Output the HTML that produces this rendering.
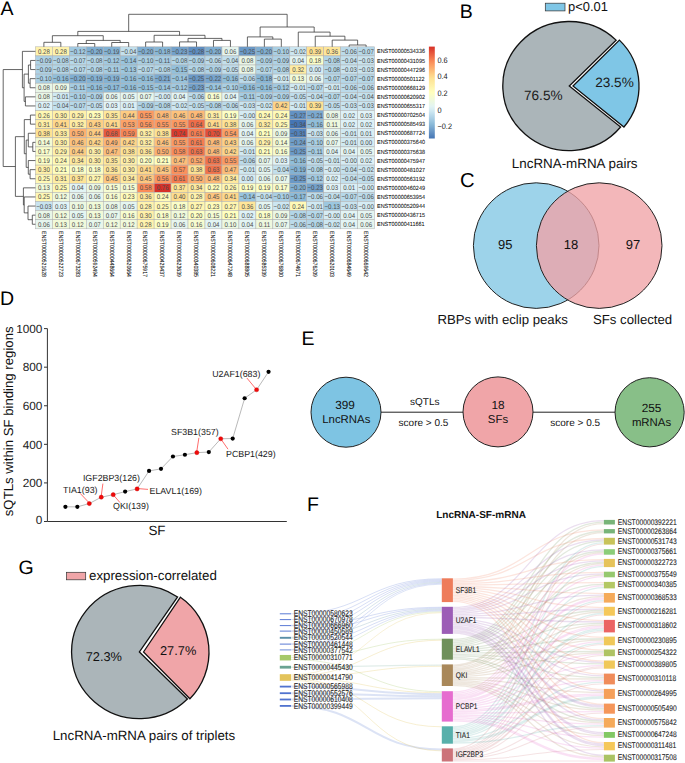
<!DOCTYPE html>
<html><head><meta charset="utf-8"><style>
html,body{margin:0;padding:0;background:#fff;}
svg{display:block;font-family:"Liberation Sans", sans-serif;text-rendering:geometricPrecision;}
</style></head><body>
<svg width="685" height="763" viewBox="0 0 685 763">
<rect width="685" height="763" fill="#fff"/>
<g>
<rect x="35.40" y="46.80" width="16.96" height="9.10" fill="#fff3ad" stroke="#b0b0b0" stroke-width="0.5"/>
<rect x="52.36" y="46.80" width="16.96" height="9.10" fill="#fff3ad" stroke="#b0b0b0" stroke-width="0.5"/>
<rect x="69.32" y="46.80" width="16.96" height="9.10" fill="#a1c9e1" stroke="#b0b0b0" stroke-width="0.5"/>
<rect x="86.28" y="46.80" width="16.96" height="9.10" fill="#7faed2" stroke="#b0b0b0" stroke-width="0.5"/>
<rect x="103.24" y="46.80" width="16.96" height="9.10" fill="#83b2d4" stroke="#b0b0b0" stroke-width="0.5"/>
<rect x="120.20" y="46.80" width="16.96" height="9.10" fill="#c3e0ed" stroke="#b0b0b0" stroke-width="0.5"/>
<rect x="137.16" y="46.80" width="16.96" height="9.10" fill="#7faed2" stroke="#b0b0b0" stroke-width="0.5"/>
<rect x="154.12" y="46.80" width="16.96" height="9.10" fill="#87b6d6" stroke="#b0b0b0" stroke-width="0.5"/>
<rect x="171.08" y="46.80" width="16.96" height="9.10" fill="#73a1cb" stroke="#b0b0b0" stroke-width="0.5"/>
<rect x="188.04" y="46.80" width="16.96" height="9.10" fill="#5e8dc1" stroke="#b0b0b0" stroke-width="0.5"/>
<rect x="205.00" y="46.80" width="16.96" height="9.10" fill="#7faed2" stroke="#b0b0b0" stroke-width="0.5"/>
<rect x="221.96" y="46.80" width="16.96" height="9.10" fill="#e6f5ee" stroke="#b0b0b0" stroke-width="0.5"/>
<rect x="238.92" y="46.80" width="16.96" height="9.10" fill="#6a99c7" stroke="#b0b0b0" stroke-width="0.5"/>
<rect x="255.88" y="46.80" width="16.96" height="9.10" fill="#7faed2" stroke="#b0b0b0" stroke-width="0.5"/>
<rect x="272.84" y="46.80" width="16.96" height="9.10" fill="#a9cfe4" stroke="#b0b0b0" stroke-width="0.5"/>
<rect x="289.80" y="46.80" width="16.96" height="9.10" fill="#cce6f1" stroke="#b0b0b0" stroke-width="0.5"/>
<rect x="306.76" y="46.80" width="16.96" height="9.10" fill="#fee191" stroke="#b0b0b0" stroke-width="0.5"/>
<rect x="323.72" y="46.80" width="16.96" height="9.10" fill="#fee699" stroke="#b0b0b0" stroke-width="0.5"/>
<rect x="340.68" y="46.80" width="16.96" height="9.10" fill="#bbdaea" stroke="#b0b0b0" stroke-width="0.5"/>
<rect x="357.64" y="46.80" width="16.96" height="9.10" fill="#b6d8e9" stroke="#b0b0b0" stroke-width="0.5"/>
<rect x="35.40" y="55.90" width="16.96" height="9.10" fill="#aed2e6" stroke="#b0b0b0" stroke-width="0.5"/>
<rect x="52.36" y="55.90" width="16.96" height="9.10" fill="#b2d5e7" stroke="#b0b0b0" stroke-width="0.5"/>
<rect x="69.32" y="55.90" width="16.96" height="9.10" fill="#b6d8e9" stroke="#b0b0b0" stroke-width="0.5"/>
<rect x="86.28" y="55.90" width="16.96" height="9.10" fill="#b2d5e7" stroke="#b0b0b0" stroke-width="0.5"/>
<rect x="103.24" y="55.90" width="16.96" height="9.10" fill="#a1c9e1" stroke="#b0b0b0" stroke-width="0.5"/>
<rect x="120.20" y="55.90" width="16.96" height="9.10" fill="#98c4de" stroke="#b0b0b0" stroke-width="0.5"/>
<rect x="137.16" y="55.90" width="16.96" height="9.10" fill="#a9cfe4" stroke="#b0b0b0" stroke-width="0.5"/>
<rect x="154.12" y="55.90" width="16.96" height="9.10" fill="#a5cce2" stroke="#b0b0b0" stroke-width="0.5"/>
<rect x="171.08" y="55.90" width="16.96" height="9.10" fill="#b2d5e7" stroke="#b0b0b0" stroke-width="0.5"/>
<rect x="188.04" y="55.90" width="16.96" height="9.10" fill="#aed2e6" stroke="#b0b0b0" stroke-width="0.5"/>
<rect x="205.00" y="55.90" width="16.96" height="9.10" fill="#bbdaea" stroke="#b0b0b0" stroke-width="0.5"/>
<rect x="221.96" y="55.90" width="16.96" height="9.10" fill="#c3e0ed" stroke="#b0b0b0" stroke-width="0.5"/>
<rect x="238.92" y="55.90" width="16.96" height="9.10" fill="#e9f6e7" stroke="#b0b0b0" stroke-width="0.5"/>
<rect x="255.88" y="55.90" width="16.96" height="9.10" fill="#aed2e6" stroke="#b0b0b0" stroke-width="0.5"/>
<rect x="272.84" y="55.90" width="16.96" height="9.10" fill="#aed2e6" stroke="#b0b0b0" stroke-width="0.5"/>
<rect x="289.80" y="55.90" width="16.96" height="9.10" fill="#e2f4f4" stroke="#b0b0b0" stroke-width="0.5"/>
<rect x="306.76" y="55.90" width="16.96" height="9.10" fill="#fafdc8" stroke="#b0b0b0" stroke-width="0.5"/>
<rect x="323.72" y="55.90" width="16.96" height="9.10" fill="#b2d5e7" stroke="#b0b0b0" stroke-width="0.5"/>
<rect x="340.68" y="55.90" width="16.96" height="9.10" fill="#c3e0ed" stroke="#b0b0b0" stroke-width="0.5"/>
<rect x="357.64" y="55.90" width="16.96" height="9.10" fill="#c8e3ef" stroke="#b0b0b0" stroke-width="0.5"/>
<rect x="35.40" y="65.00" width="16.96" height="9.10" fill="#aed2e6" stroke="#b0b0b0" stroke-width="0.5"/>
<rect x="52.36" y="65.00" width="16.96" height="9.10" fill="#b2d5e7" stroke="#b0b0b0" stroke-width="0.5"/>
<rect x="69.32" y="65.00" width="16.96" height="9.10" fill="#b6d8e9" stroke="#b0b0b0" stroke-width="0.5"/>
<rect x="86.28" y="65.00" width="16.96" height="9.10" fill="#b2d5e7" stroke="#b0b0b0" stroke-width="0.5"/>
<rect x="103.24" y="65.00" width="16.96" height="9.10" fill="#a5cce2" stroke="#b0b0b0" stroke-width="0.5"/>
<rect x="120.20" y="65.00" width="16.96" height="9.10" fill="#9cc7df" stroke="#b0b0b0" stroke-width="0.5"/>
<rect x="137.16" y="65.00" width="16.96" height="9.10" fill="#b6d8e9" stroke="#b0b0b0" stroke-width="0.5"/>
<rect x="154.12" y="65.00" width="16.96" height="9.10" fill="#b2d5e7" stroke="#b0b0b0" stroke-width="0.5"/>
<rect x="171.08" y="65.00" width="16.96" height="9.10" fill="#94c1dc" stroke="#b0b0b0" stroke-width="0.5"/>
<rect x="188.04" y="65.00" width="16.96" height="9.10" fill="#b2d5e7" stroke="#b0b0b0" stroke-width="0.5"/>
<rect x="205.00" y="65.00" width="16.96" height="9.10" fill="#aed2e6" stroke="#b0b0b0" stroke-width="0.5"/>
<rect x="221.96" y="65.00" width="16.96" height="9.10" fill="#bfddec" stroke="#b0b0b0" stroke-width="0.5"/>
<rect x="238.92" y="65.00" width="16.96" height="9.10" fill="#e9f6e7" stroke="#b0b0b0" stroke-width="0.5"/>
<rect x="255.88" y="65.00" width="16.96" height="9.10" fill="#b6d8e9" stroke="#b0b0b0" stroke-width="0.5"/>
<rect x="272.84" y="65.00" width="16.96" height="9.10" fill="#b2d5e7" stroke="#b0b0b0" stroke-width="0.5"/>
<rect x="289.80" y="65.00" width="16.96" height="9.10" fill="#feeca3" stroke="#b0b0b0" stroke-width="0.5"/>
<rect x="306.76" y="65.00" width="16.96" height="9.10" fill="#d5ebf4" stroke="#b0b0b0" stroke-width="0.5"/>
<rect x="323.72" y="65.00" width="16.96" height="9.10" fill="#b2d5e7" stroke="#b0b0b0" stroke-width="0.5"/>
<rect x="340.68" y="65.00" width="16.96" height="9.10" fill="#c8e3ef" stroke="#b0b0b0" stroke-width="0.5"/>
<rect x="357.64" y="65.00" width="16.96" height="9.10" fill="#c8e3ef" stroke="#b0b0b0" stroke-width="0.5"/>
<rect x="35.40" y="74.10" width="16.96" height="9.10" fill="#a9cfe4" stroke="#b0b0b0" stroke-width="0.5"/>
<rect x="52.36" y="74.10" width="16.96" height="9.10" fill="#90beda" stroke="#b0b0b0" stroke-width="0.5"/>
<rect x="69.32" y="74.10" width="16.96" height="9.10" fill="#7faed2" stroke="#b0b0b0" stroke-width="0.5"/>
<rect x="86.28" y="74.10" width="16.96" height="9.10" fill="#83b2d4" stroke="#b0b0b0" stroke-width="0.5"/>
<rect x="103.24" y="74.10" width="16.96" height="9.10" fill="#83b2d4" stroke="#b0b0b0" stroke-width="0.5"/>
<rect x="120.20" y="74.10" width="16.96" height="9.10" fill="#90beda" stroke="#b0b0b0" stroke-width="0.5"/>
<rect x="137.16" y="74.10" width="16.96" height="9.10" fill="#90beda" stroke="#b0b0b0" stroke-width="0.5"/>
<rect x="154.12" y="74.10" width="16.96" height="9.10" fill="#7ba9d0" stroke="#b0b0b0" stroke-width="0.5"/>
<rect x="171.08" y="74.10" width="16.96" height="9.10" fill="#98c4de" stroke="#b0b0b0" stroke-width="0.5"/>
<rect x="188.04" y="74.10" width="16.96" height="9.10" fill="#6a99c7" stroke="#b0b0b0" stroke-width="0.5"/>
<rect x="205.00" y="74.10" width="16.96" height="9.10" fill="#77a5ce" stroke="#b0b0b0" stroke-width="0.5"/>
<rect x="221.96" y="74.10" width="16.96" height="9.10" fill="#90beda" stroke="#b0b0b0" stroke-width="0.5"/>
<rect x="238.92" y="74.10" width="16.96" height="9.10" fill="#bbdaea" stroke="#b0b0b0" stroke-width="0.5"/>
<rect x="255.88" y="74.10" width="16.96" height="9.10" fill="#87b6d6" stroke="#b0b0b0" stroke-width="0.5"/>
<rect x="272.84" y="74.10" width="16.96" height="9.10" fill="#d0e9f2" stroke="#b0b0b0" stroke-width="0.5"/>
<rect x="289.80" y="74.10" width="16.96" height="9.10" fill="#f1fad8" stroke="#b0b0b0" stroke-width="0.5"/>
<rect x="306.76" y="74.10" width="16.96" height="9.10" fill="#e6f5ee" stroke="#b0b0b0" stroke-width="0.5"/>
<rect x="323.72" y="74.10" width="16.96" height="9.10" fill="#b6d8e9" stroke="#b0b0b0" stroke-width="0.5"/>
<rect x="340.68" y="74.10" width="16.96" height="9.10" fill="#b6d8e9" stroke="#b0b0b0" stroke-width="0.5"/>
<rect x="357.64" y="74.10" width="16.96" height="9.10" fill="#b6d8e9" stroke="#b0b0b0" stroke-width="0.5"/>
<rect x="35.40" y="83.20" width="16.96" height="9.10" fill="#e9f6e7" stroke="#b0b0b0" stroke-width="0.5"/>
<rect x="52.36" y="83.20" width="16.96" height="9.10" fill="#ebf7e4" stroke="#b0b0b0" stroke-width="0.5"/>
<rect x="69.32" y="83.20" width="16.96" height="9.10" fill="#a5cce2" stroke="#b0b0b0" stroke-width="0.5"/>
<rect x="86.28" y="83.20" width="16.96" height="9.10" fill="#90beda" stroke="#b0b0b0" stroke-width="0.5"/>
<rect x="103.24" y="83.20" width="16.96" height="9.10" fill="#8bbad8" stroke="#b0b0b0" stroke-width="0.5"/>
<rect x="120.20" y="83.20" width="16.96" height="9.10" fill="#90beda" stroke="#b0b0b0" stroke-width="0.5"/>
<rect x="137.16" y="83.20" width="16.96" height="9.10" fill="#94c1dc" stroke="#b0b0b0" stroke-width="0.5"/>
<rect x="154.12" y="83.20" width="16.96" height="9.10" fill="#98c4de" stroke="#b0b0b0" stroke-width="0.5"/>
<rect x="171.08" y="83.20" width="16.96" height="9.10" fill="#a1c9e1" stroke="#b0b0b0" stroke-width="0.5"/>
<rect x="188.04" y="83.20" width="16.96" height="9.10" fill="#73a1cb" stroke="#b0b0b0" stroke-width="0.5"/>
<rect x="205.00" y="83.20" width="16.96" height="9.10" fill="#98c4de" stroke="#b0b0b0" stroke-width="0.5"/>
<rect x="221.96" y="83.20" width="16.96" height="9.10" fill="#a9cfe4" stroke="#b0b0b0" stroke-width="0.5"/>
<rect x="238.92" y="83.20" width="16.96" height="9.10" fill="#90beda" stroke="#b0b0b0" stroke-width="0.5"/>
<rect x="255.88" y="83.20" width="16.96" height="9.10" fill="#90beda" stroke="#b0b0b0" stroke-width="0.5"/>
<rect x="272.84" y="83.20" width="16.96" height="9.10" fill="#a1c9e1" stroke="#b0b0b0" stroke-width="0.5"/>
<rect x="289.80" y="83.20" width="16.96" height="9.10" fill="#d0e9f2" stroke="#b0b0b0" stroke-width="0.5"/>
<rect x="306.76" y="83.20" width="16.96" height="9.10" fill="#b6d8e9" stroke="#b0b0b0" stroke-width="0.5"/>
<rect x="323.72" y="83.20" width="16.96" height="9.10" fill="#d0e9f2" stroke="#b0b0b0" stroke-width="0.5"/>
<rect x="340.68" y="83.20" width="16.96" height="9.10" fill="#bbdaea" stroke="#b0b0b0" stroke-width="0.5"/>
<rect x="357.64" y="83.20" width="16.96" height="9.10" fill="#bbdaea" stroke="#b0b0b0" stroke-width="0.5"/>
<rect x="35.40" y="92.30" width="16.96" height="9.10" fill="#e9f6e7" stroke="#b0b0b0" stroke-width="0.5"/>
<rect x="52.36" y="92.30" width="16.96" height="9.10" fill="#d0e9f2" stroke="#b0b0b0" stroke-width="0.5"/>
<rect x="69.32" y="92.30" width="16.96" height="9.10" fill="#a9cfe4" stroke="#b0b0b0" stroke-width="0.5"/>
<rect x="86.28" y="92.30" width="16.96" height="9.10" fill="#aed2e6" stroke="#b0b0b0" stroke-width="0.5"/>
<rect x="103.24" y="92.30" width="16.96" height="9.10" fill="#e6f5ee" stroke="#b0b0b0" stroke-width="0.5"/>
<rect x="120.20" y="92.30" width="16.96" height="9.10" fill="#e4f5f1" stroke="#b0b0b0" stroke-width="0.5"/>
<rect x="137.16" y="92.30" width="16.96" height="9.10" fill="#e7f6eb" stroke="#b0b0b0" stroke-width="0.5"/>
<rect x="154.12" y="92.30" width="16.96" height="9.10" fill="#d5ebf4" stroke="#b0b0b0" stroke-width="0.5"/>
<rect x="171.08" y="92.30" width="16.96" height="9.10" fill="#e2f4f4" stroke="#b0b0b0" stroke-width="0.5"/>
<rect x="188.04" y="92.30" width="16.96" height="9.10" fill="#bbdaea" stroke="#b0b0b0" stroke-width="0.5"/>
<rect x="205.00" y="92.30" width="16.96" height="9.10" fill="#f7fccf" stroke="#b0b0b0" stroke-width="0.5"/>
<rect x="221.96" y="92.30" width="16.96" height="9.10" fill="#e2f4f4" stroke="#b0b0b0" stroke-width="0.5"/>
<rect x="238.92" y="92.30" width="16.96" height="9.10" fill="#a5cce2" stroke="#b0b0b0" stroke-width="0.5"/>
<rect x="255.88" y="92.30" width="16.96" height="9.10" fill="#aed2e6" stroke="#b0b0b0" stroke-width="0.5"/>
<rect x="272.84" y="92.30" width="16.96" height="9.10" fill="#aed2e6" stroke="#b0b0b0" stroke-width="0.5"/>
<rect x="289.80" y="92.30" width="16.96" height="9.10" fill="#bfddec" stroke="#b0b0b0" stroke-width="0.5"/>
<rect x="306.76" y="92.30" width="16.96" height="9.10" fill="#c3e0ed" stroke="#b0b0b0" stroke-width="0.5"/>
<rect x="323.72" y="92.30" width="16.96" height="9.10" fill="#b6d8e9" stroke="#b0b0b0" stroke-width="0.5"/>
<rect x="340.68" y="92.30" width="16.96" height="9.10" fill="#c3e0ed" stroke="#b0b0b0" stroke-width="0.5"/>
<rect x="357.64" y="92.30" width="16.96" height="9.10" fill="#c3e0ed" stroke="#b0b0b0" stroke-width="0.5"/>
<rect x="35.40" y="101.40" width="16.96" height="9.10" fill="#ddf1f7" stroke="#b0b0b0" stroke-width="0.5"/>
<rect x="52.36" y="101.40" width="16.96" height="9.10" fill="#c3e0ed" stroke="#b0b0b0" stroke-width="0.5"/>
<rect x="69.32" y="101.40" width="16.96" height="9.10" fill="#b6d8e9" stroke="#b0b0b0" stroke-width="0.5"/>
<rect x="86.28" y="101.40" width="16.96" height="9.10" fill="#bfddec" stroke="#b0b0b0" stroke-width="0.5"/>
<rect x="103.24" y="101.40" width="16.96" height="9.10" fill="#e1f3f7" stroke="#b0b0b0" stroke-width="0.5"/>
<rect x="120.20" y="101.40" width="16.96" height="9.10" fill="#d9eef5" stroke="#b0b0b0" stroke-width="0.5"/>
<rect x="137.16" y="101.40" width="16.96" height="9.10" fill="#aed2e6" stroke="#b0b0b0" stroke-width="0.5"/>
<rect x="154.12" y="101.40" width="16.96" height="9.10" fill="#b2d5e7" stroke="#b0b0b0" stroke-width="0.5"/>
<rect x="171.08" y="101.40" width="16.96" height="9.10" fill="#cce6f1" stroke="#b0b0b0" stroke-width="0.5"/>
<rect x="188.04" y="101.40" width="16.96" height="9.10" fill="#bfddec" stroke="#b0b0b0" stroke-width="0.5"/>
<rect x="205.00" y="101.40" width="16.96" height="9.10" fill="#b2d5e7" stroke="#b0b0b0" stroke-width="0.5"/>
<rect x="221.96" y="101.40" width="16.96" height="9.10" fill="#bbdaea" stroke="#b0b0b0" stroke-width="0.5"/>
<rect x="238.92" y="101.40" width="16.96" height="9.10" fill="#c8e3ef" stroke="#b0b0b0" stroke-width="0.5"/>
<rect x="255.88" y="101.40" width="16.96" height="9.10" fill="#cce6f1" stroke="#b0b0b0" stroke-width="0.5"/>
<rect x="272.84" y="101.40" width="16.96" height="9.10" fill="#fed488" stroke="#b0b0b0" stroke-width="0.5"/>
<rect x="289.80" y="101.40" width="16.96" height="9.10" fill="#d0e9f2" stroke="#b0b0b0" stroke-width="0.5"/>
<rect x="306.76" y="101.40" width="16.96" height="9.10" fill="#fee191" stroke="#b0b0b0" stroke-width="0.5"/>
<rect x="323.72" y="101.40" width="16.96" height="9.10" fill="#bfddec" stroke="#b0b0b0" stroke-width="0.5"/>
<rect x="340.68" y="101.40" width="16.96" height="9.10" fill="#c8e3ef" stroke="#b0b0b0" stroke-width="0.5"/>
<rect x="357.64" y="101.40" width="16.96" height="9.10" fill="#c8e3ef" stroke="#b0b0b0" stroke-width="0.5"/>
<rect x="35.40" y="110.50" width="16.96" height="9.10" fill="#fff7b2" stroke="#b0b0b0" stroke-width="0.5"/>
<rect x="52.36" y="110.50" width="16.96" height="9.10" fill="#fff0a8" stroke="#b0b0b0" stroke-width="0.5"/>
<rect x="69.32" y="110.50" width="16.96" height="9.10" fill="#fff1aa" stroke="#b0b0b0" stroke-width="0.5"/>
<rect x="86.28" y="110.50" width="16.96" height="9.10" fill="#fffcba" stroke="#b0b0b0" stroke-width="0.5"/>
<rect x="103.24" y="110.50" width="16.96" height="9.10" fill="#fee79b" stroke="#b0b0b0" stroke-width="0.5"/>
<rect x="120.20" y="110.50" width="16.96" height="9.10" fill="#fdcb82" stroke="#b0b0b0" stroke-width="0.5"/>
<rect x="137.16" y="110.50" width="16.96" height="9.10" fill="#fc9961" stroke="#b0b0b0" stroke-width="0.5"/>
<rect x="154.12" y="110.50" width="16.96" height="9.10" fill="#fdb976" stroke="#b0b0b0" stroke-width="0.5"/>
<rect x="171.08" y="110.50" width="16.96" height="9.10" fill="#fdc27c" stroke="#b0b0b0" stroke-width="0.5"/>
<rect x="188.04" y="110.50" width="16.96" height="9.10" fill="#fdb976" stroke="#b0b0b0" stroke-width="0.5"/>
<rect x="205.00" y="110.50" width="16.96" height="9.10" fill="#feeea5" stroke="#b0b0b0" stroke-width="0.5"/>
<rect x="221.96" y="110.50" width="16.96" height="9.10" fill="#fcfec5" stroke="#b0b0b0" stroke-width="0.5"/>
<rect x="238.92" y="110.50" width="16.96" height="9.10" fill="#d5ebf4" stroke="#b0b0b0" stroke-width="0.5"/>
<rect x="255.88" y="110.50" width="16.96" height="9.10" fill="#fffab7" stroke="#b0b0b0" stroke-width="0.5"/>
<rect x="272.84" y="110.50" width="16.96" height="9.10" fill="#fffab7" stroke="#b0b0b0" stroke-width="0.5"/>
<rect x="289.80" y="110.50" width="16.96" height="9.10" fill="#6291c3" stroke="#b0b0b0" stroke-width="0.5"/>
<rect x="306.76" y="110.50" width="16.96" height="9.10" fill="#7ba9d0" stroke="#b0b0b0" stroke-width="0.5"/>
<rect x="323.72" y="110.50" width="16.96" height="9.10" fill="#e9f6e7" stroke="#b0b0b0" stroke-width="0.5"/>
<rect x="340.68" y="110.50" width="16.96" height="9.10" fill="#ddf1f7" stroke="#b0b0b0" stroke-width="0.5"/>
<rect x="357.64" y="110.50" width="16.96" height="9.10" fill="#e1f3f7" stroke="#b0b0b0" stroke-width="0.5"/>
<rect x="35.40" y="119.60" width="16.96" height="9.10" fill="#feeea5" stroke="#b0b0b0" stroke-width="0.5"/>
<rect x="52.36" y="119.60" width="16.96" height="9.10" fill="#fed88b" stroke="#b0b0b0" stroke-width="0.5"/>
<rect x="69.32" y="119.60" width="16.96" height="9.10" fill="#feeca3" stroke="#b0b0b0" stroke-width="0.5"/>
<rect x="86.28" y="119.60" width="16.96" height="9.10" fill="#fecf85" stroke="#b0b0b0" stroke-width="0.5"/>
<rect x="103.24" y="119.60" width="16.96" height="9.10" fill="#fed88b" stroke="#b0b0b0" stroke-width="0.5"/>
<rect x="120.20" y="119.60" width="16.96" height="9.10" fill="#fda267" stroke="#b0b0b0" stroke-width="0.5"/>
<rect x="137.16" y="119.60" width="16.96" height="9.10" fill="#fc955e" stroke="#b0b0b0" stroke-width="0.5"/>
<rect x="154.12" y="119.60" width="16.96" height="9.10" fill="#fc9961" stroke="#b0b0b0" stroke-width="0.5"/>
<rect x="171.08" y="119.60" width="16.96" height="9.10" fill="#fc9961" stroke="#b0b0b0" stroke-width="0.5"/>
<rect x="188.04" y="119.60" width="16.96" height="9.10" fill="#ef6d48" stroke="#b0b0b0" stroke-width="0.5"/>
<rect x="205.00" y="119.60" width="16.96" height="9.10" fill="#fed88b" stroke="#b0b0b0" stroke-width="0.5"/>
<rect x="221.96" y="119.60" width="16.96" height="9.10" fill="#fee293" stroke="#b0b0b0" stroke-width="0.5"/>
<rect x="238.92" y="119.60" width="16.96" height="9.10" fill="#e6f5ee" stroke="#b0b0b0" stroke-width="0.5"/>
<rect x="255.88" y="119.60" width="16.96" height="9.10" fill="#feeca3" stroke="#b0b0b0" stroke-width="0.5"/>
<rect x="272.84" y="119.60" width="16.96" height="9.10" fill="#fff8b5" stroke="#b0b0b0" stroke-width="0.5"/>
<rect x="289.80" y="119.60" width="16.96" height="9.10" fill="#4575b4" stroke="#b0b0b0" stroke-width="0.5"/>
<rect x="306.76" y="119.60" width="16.96" height="9.10" fill="#90beda" stroke="#b0b0b0" stroke-width="0.5"/>
<rect x="323.72" y="119.60" width="16.96" height="9.10" fill="#eef8de" stroke="#b0b0b0" stroke-width="0.5"/>
<rect x="340.68" y="119.60" width="16.96" height="9.10" fill="#ddf1f7" stroke="#b0b0b0" stroke-width="0.5"/>
<rect x="357.64" y="119.60" width="16.96" height="9.10" fill="#ddf1f7" stroke="#b0b0b0" stroke-width="0.5"/>
<rect x="35.40" y="128.70" width="16.96" height="9.10" fill="#fee293" stroke="#b0b0b0" stroke-width="0.5"/>
<rect x="52.36" y="128.70" width="16.96" height="9.10" fill="#feeba0" stroke="#b0b0b0" stroke-width="0.5"/>
<rect x="69.32" y="128.70" width="16.96" height="9.10" fill="#fdb070" stroke="#b0b0b0" stroke-width="0.5"/>
<rect x="86.28" y="128.70" width="16.96" height="9.10" fill="#fdcb82" stroke="#b0b0b0" stroke-width="0.5"/>
<rect x="103.24" y="128.70" width="16.96" height="9.10" fill="#e7593d" stroke="#b0b0b0" stroke-width="0.5"/>
<rect x="120.20" y="128.70" width="16.96" height="9.10" fill="#f98655" stroke="#b0b0b0" stroke-width="0.5"/>
<rect x="137.16" y="128.70" width="16.96" height="9.10" fill="#feeca3" stroke="#b0b0b0" stroke-width="0.5"/>
<rect x="154.12" y="128.70" width="16.96" height="9.10" fill="#fee293" stroke="#b0b0b0" stroke-width="0.5"/>
<rect x="171.08" y="128.70" width="16.96" height="9.10" fill="#db3a2c" stroke="#b0b0b0" stroke-width="0.5"/>
<rect x="188.04" y="128.70" width="16.96" height="9.10" fill="#f57c50" stroke="#b0b0b0" stroke-width="0.5"/>
<rect x="205.00" y="128.70" width="16.96" height="9.10" fill="#e34e37" stroke="#b0b0b0" stroke-width="0.5"/>
<rect x="221.96" y="128.70" width="16.96" height="9.10" fill="#fc9e64" stroke="#b0b0b0" stroke-width="0.5"/>
<rect x="238.92" y="128.70" width="16.96" height="9.10" fill="#e2f4f4" stroke="#b0b0b0" stroke-width="0.5"/>
<rect x="255.88" y="128.70" width="16.96" height="9.10" fill="#ffffbf" stroke="#b0b0b0" stroke-width="0.5"/>
<rect x="272.84" y="128.70" width="16.96" height="9.10" fill="#ebf7e4" stroke="#b0b0b0" stroke-width="0.5"/>
<rect x="289.80" y="128.70" width="16.96" height="9.10" fill="#5181ba" stroke="#b0b0b0" stroke-width="0.5"/>
<rect x="306.76" y="128.70" width="16.96" height="9.10" fill="#c8e3ef" stroke="#b0b0b0" stroke-width="0.5"/>
<rect x="323.72" y="128.70" width="16.96" height="9.10" fill="#e6f5ee" stroke="#b0b0b0" stroke-width="0.5"/>
<rect x="340.68" y="128.70" width="16.96" height="9.10" fill="#d0e9f2" stroke="#b0b0b0" stroke-width="0.5"/>
<rect x="357.64" y="128.70" width="16.96" height="9.10" fill="#d9eef5" stroke="#b0b0b0" stroke-width="0.5"/>
<rect x="35.40" y="137.80" width="16.96" height="9.10" fill="#f3fad5" stroke="#b0b0b0" stroke-width="0.5"/>
<rect x="52.36" y="137.80" width="16.96" height="9.10" fill="#fff0a8" stroke="#b0b0b0" stroke-width="0.5"/>
<rect x="69.32" y="137.80" width="16.96" height="9.10" fill="#fdc27c" stroke="#b0b0b0" stroke-width="0.5"/>
<rect x="86.28" y="137.80" width="16.96" height="9.10" fill="#fed488" stroke="#b0b0b0" stroke-width="0.5"/>
<rect x="103.24" y="137.80" width="16.96" height="9.10" fill="#fdb473" stroke="#b0b0b0" stroke-width="0.5"/>
<rect x="120.20" y="137.80" width="16.96" height="9.10" fill="#fed488" stroke="#b0b0b0" stroke-width="0.5"/>
<rect x="137.16" y="137.80" width="16.96" height="9.10" fill="#feeca3" stroke="#b0b0b0" stroke-width="0.5"/>
<rect x="154.12" y="137.80" width="16.96" height="9.10" fill="#fdc27c" stroke="#b0b0b0" stroke-width="0.5"/>
<rect x="171.08" y="137.80" width="16.96" height="9.10" fill="#fc9961" stroke="#b0b0b0" stroke-width="0.5"/>
<rect x="188.04" y="137.80" width="16.96" height="9.10" fill="#f57c50" stroke="#b0b0b0" stroke-width="0.5"/>
<rect x="205.00" y="137.80" width="16.96" height="9.10" fill="#fdb976" stroke="#b0b0b0" stroke-width="0.5"/>
<rect x="221.96" y="137.80" width="16.96" height="9.10" fill="#fecf85" stroke="#b0b0b0" stroke-width="0.5"/>
<rect x="238.92" y="137.80" width="16.96" height="9.10" fill="#e6f5ee" stroke="#b0b0b0" stroke-width="0.5"/>
<rect x="255.88" y="137.80" width="16.96" height="9.10" fill="#fff1aa" stroke="#b0b0b0" stroke-width="0.5"/>
<rect x="272.84" y="137.80" width="16.96" height="9.10" fill="#f3fad5" stroke="#b0b0b0" stroke-width="0.5"/>
<rect x="289.80" y="137.80" width="16.96" height="9.10" fill="#6e9dc9" stroke="#b0b0b0" stroke-width="0.5"/>
<rect x="306.76" y="137.80" width="16.96" height="9.10" fill="#a9cfe4" stroke="#b0b0b0" stroke-width="0.5"/>
<rect x="323.72" y="137.80" width="16.96" height="9.10" fill="#e7f6eb" stroke="#b0b0b0" stroke-width="0.5"/>
<rect x="340.68" y="137.80" width="16.96" height="9.10" fill="#d0e9f2" stroke="#b0b0b0" stroke-width="0.5"/>
<rect x="357.64" y="137.80" width="16.96" height="9.10" fill="#d5ebf4" stroke="#b0b0b0" stroke-width="0.5"/>
<rect x="35.40" y="146.90" width="16.96" height="9.10" fill="#f8fccb" stroke="#b0b0b0" stroke-width="0.5"/>
<rect x="52.36" y="146.90" width="16.96" height="9.10" fill="#fff1aa" stroke="#b0b0b0" stroke-width="0.5"/>
<rect x="69.32" y="146.90" width="16.96" height="9.10" fill="#fdcb82" stroke="#b0b0b0" stroke-width="0.5"/>
<rect x="86.28" y="146.90" width="16.96" height="9.10" fill="#fff0a8" stroke="#b0b0b0" stroke-width="0.5"/>
<rect x="103.24" y="146.90" width="16.96" height="9.10" fill="#fdbd79" stroke="#b0b0b0" stroke-width="0.5"/>
<rect x="120.20" y="146.90" width="16.96" height="9.10" fill="#fee293" stroke="#b0b0b0" stroke-width="0.5"/>
<rect x="137.16" y="146.90" width="16.96" height="9.10" fill="#fee699" stroke="#b0b0b0" stroke-width="0.5"/>
<rect x="154.12" y="146.90" width="16.96" height="9.10" fill="#fdb070" stroke="#b0b0b0" stroke-width="0.5"/>
<rect x="171.08" y="146.90" width="16.96" height="9.10" fill="#fb8b58" stroke="#b0b0b0" stroke-width="0.5"/>
<rect x="188.04" y="146.90" width="16.96" height="9.10" fill="#f1724a" stroke="#b0b0b0" stroke-width="0.5"/>
<rect x="205.00" y="146.90" width="16.96" height="9.10" fill="#fdb976" stroke="#b0b0b0" stroke-width="0.5"/>
<rect x="221.96" y="146.90" width="16.96" height="9.10" fill="#fed488" stroke="#b0b0b0" stroke-width="0.5"/>
<rect x="238.92" y="146.90" width="16.96" height="9.10" fill="#d0e9f2" stroke="#b0b0b0" stroke-width="0.5"/>
<rect x="255.88" y="146.90" width="16.96" height="9.10" fill="#ffffbf" stroke="#b0b0b0" stroke-width="0.5"/>
<rect x="272.84" y="146.90" width="16.96" height="9.10" fill="#f7fccf" stroke="#b0b0b0" stroke-width="0.5"/>
<rect x="289.80" y="146.90" width="16.96" height="9.10" fill="#6a99c7" stroke="#b0b0b0" stroke-width="0.5"/>
<rect x="306.76" y="146.90" width="16.96" height="9.10" fill="#a5cce2" stroke="#b0b0b0" stroke-width="0.5"/>
<rect x="323.72" y="146.90" width="16.96" height="9.10" fill="#e2f4f4" stroke="#b0b0b0" stroke-width="0.5"/>
<rect x="340.68" y="146.90" width="16.96" height="9.10" fill="#e2f4f4" stroke="#b0b0b0" stroke-width="0.5"/>
<rect x="357.64" y="146.90" width="16.96" height="9.10" fill="#e4f5f1" stroke="#b0b0b0" stroke-width="0.5"/>
<rect x="35.40" y="156.00" width="16.96" height="9.10" fill="#fcfec5" stroke="#b0b0b0" stroke-width="0.5"/>
<rect x="52.36" y="156.00" width="16.96" height="9.10" fill="#fffab7" stroke="#b0b0b0" stroke-width="0.5"/>
<rect x="69.32" y="156.00" width="16.96" height="9.10" fill="#fee99e" stroke="#b0b0b0" stroke-width="0.5"/>
<rect x="86.28" y="156.00" width="16.96" height="9.10" fill="#fff0a8" stroke="#b0b0b0" stroke-width="0.5"/>
<rect x="103.24" y="156.00" width="16.96" height="9.10" fill="#fee79b" stroke="#b0b0b0" stroke-width="0.5"/>
<rect x="120.20" y="156.00" width="16.96" height="9.10" fill="#fff0a8" stroke="#b0b0b0" stroke-width="0.5"/>
<rect x="137.16" y="156.00" width="16.96" height="9.10" fill="#fdfec2" stroke="#b0b0b0" stroke-width="0.5"/>
<rect x="154.12" y="156.00" width="16.96" height="9.10" fill="#ffffbf" stroke="#b0b0b0" stroke-width="0.5"/>
<rect x="171.08" y="156.00" width="16.96" height="9.10" fill="#fdbd79" stroke="#b0b0b0" stroke-width="0.5"/>
<rect x="188.04" y="156.00" width="16.96" height="9.10" fill="#fda76a" stroke="#b0b0b0" stroke-width="0.5"/>
<rect x="205.00" y="156.00" width="16.96" height="9.10" fill="#f1724a" stroke="#b0b0b0" stroke-width="0.5"/>
<rect x="221.96" y="156.00" width="16.96" height="9.10" fill="#fc9961" stroke="#b0b0b0" stroke-width="0.5"/>
<rect x="238.92" y="156.00" width="16.96" height="9.10" fill="#bbdaea" stroke="#b0b0b0" stroke-width="0.5"/>
<rect x="255.88" y="156.00" width="16.96" height="9.10" fill="#e7f6eb" stroke="#b0b0b0" stroke-width="0.5"/>
<rect x="272.84" y="156.00" width="16.96" height="9.10" fill="#e1f3f7" stroke="#b0b0b0" stroke-width="0.5"/>
<rect x="289.80" y="156.00" width="16.96" height="9.10" fill="#90beda" stroke="#b0b0b0" stroke-width="0.5"/>
<rect x="306.76" y="156.00" width="16.96" height="9.10" fill="#bfddec" stroke="#b0b0b0" stroke-width="0.5"/>
<rect x="323.72" y="156.00" width="16.96" height="9.10" fill="#d0e9f2" stroke="#b0b0b0" stroke-width="0.5"/>
<rect x="340.68" y="156.00" width="16.96" height="9.10" fill="#d5ebf4" stroke="#b0b0b0" stroke-width="0.5"/>
<rect x="357.64" y="156.00" width="16.96" height="9.10" fill="#ddf1f7" stroke="#b0b0b0" stroke-width="0.5"/>
<rect x="35.40" y="165.10" width="16.96" height="9.10" fill="#fff0a8" stroke="#b0b0b0" stroke-width="0.5"/>
<rect x="52.36" y="165.10" width="16.96" height="9.10" fill="#ffffbf" stroke="#b0b0b0" stroke-width="0.5"/>
<rect x="69.32" y="165.10" width="16.96" height="9.10" fill="#fafdc8" stroke="#b0b0b0" stroke-width="0.5"/>
<rect x="86.28" y="165.10" width="16.96" height="9.10" fill="#fafdc8" stroke="#b0b0b0" stroke-width="0.5"/>
<rect x="103.24" y="165.10" width="16.96" height="9.10" fill="#fee699" stroke="#b0b0b0" stroke-width="0.5"/>
<rect x="120.20" y="165.10" width="16.96" height="9.10" fill="#fff0a8" stroke="#b0b0b0" stroke-width="0.5"/>
<rect x="137.16" y="165.10" width="16.96" height="9.10" fill="#fed88b" stroke="#b0b0b0" stroke-width="0.5"/>
<rect x="154.12" y="165.10" width="16.96" height="9.10" fill="#fdc67f" stroke="#b0b0b0" stroke-width="0.5"/>
<rect x="171.08" y="165.10" width="16.96" height="9.10" fill="#fc905b" stroke="#b0b0b0" stroke-width="0.5"/>
<rect x="188.04" y="165.10" width="16.96" height="9.10" fill="#fee293" stroke="#b0b0b0" stroke-width="0.5"/>
<rect x="205.00" y="165.10" width="16.96" height="9.10" fill="#f1724a" stroke="#b0b0b0" stroke-width="0.5"/>
<rect x="221.96" y="165.10" width="16.96" height="9.10" fill="#fdbd79" stroke="#b0b0b0" stroke-width="0.5"/>
<rect x="238.92" y="165.10" width="16.96" height="9.10" fill="#d0e9f2" stroke="#b0b0b0" stroke-width="0.5"/>
<rect x="255.88" y="165.10" width="16.96" height="9.10" fill="#e4f5f1" stroke="#b0b0b0" stroke-width="0.5"/>
<rect x="272.84" y="165.10" width="16.96" height="9.10" fill="#c3e0ed" stroke="#b0b0b0" stroke-width="0.5"/>
<rect x="289.80" y="165.10" width="16.96" height="9.10" fill="#83b2d4" stroke="#b0b0b0" stroke-width="0.5"/>
<rect x="306.76" y="165.10" width="16.96" height="9.10" fill="#b2d5e7" stroke="#b0b0b0" stroke-width="0.5"/>
<rect x="323.72" y="165.10" width="16.96" height="9.10" fill="#d5ebf4" stroke="#b0b0b0" stroke-width="0.5"/>
<rect x="340.68" y="165.10" width="16.96" height="9.10" fill="#c3e0ed" stroke="#b0b0b0" stroke-width="0.5"/>
<rect x="357.64" y="165.10" width="16.96" height="9.10" fill="#cce6f1" stroke="#b0b0b0" stroke-width="0.5"/>
<rect x="35.40" y="174.20" width="16.96" height="9.10" fill="#fff8b5" stroke="#b0b0b0" stroke-width="0.5"/>
<rect x="52.36" y="174.20" width="16.96" height="9.10" fill="#feeea5" stroke="#b0b0b0" stroke-width="0.5"/>
<rect x="69.32" y="174.20" width="16.96" height="9.10" fill="#fee496" stroke="#b0b0b0" stroke-width="0.5"/>
<rect x="86.28" y="174.20" width="16.96" height="9.10" fill="#fff5b0" stroke="#b0b0b0" stroke-width="0.5"/>
<rect x="103.24" y="174.20" width="16.96" height="9.10" fill="#fdc67f" stroke="#b0b0b0" stroke-width="0.5"/>
<rect x="120.20" y="174.20" width="16.96" height="9.10" fill="#fee99e" stroke="#b0b0b0" stroke-width="0.5"/>
<rect x="137.16" y="174.20" width="16.96" height="9.10" fill="#fdc67f" stroke="#b0b0b0" stroke-width="0.5"/>
<rect x="154.12" y="174.20" width="16.96" height="9.10" fill="#fc955e" stroke="#b0b0b0" stroke-width="0.5"/>
<rect x="171.08" y="174.20" width="16.96" height="9.10" fill="#f57c50" stroke="#b0b0b0" stroke-width="0.5"/>
<rect x="188.04" y="174.20" width="16.96" height="9.10" fill="#fdb070" stroke="#b0b0b0" stroke-width="0.5"/>
<rect x="205.00" y="174.20" width="16.96" height="9.10" fill="#fdb976" stroke="#b0b0b0" stroke-width="0.5"/>
<rect x="221.96" y="174.20" width="16.96" height="9.10" fill="#fee99e" stroke="#b0b0b0" stroke-width="0.5"/>
<rect x="238.92" y="174.20" width="16.96" height="9.10" fill="#d5ebf4" stroke="#b0b0b0" stroke-width="0.5"/>
<rect x="255.88" y="174.20" width="16.96" height="9.10" fill="#e6f5ee" stroke="#b0b0b0" stroke-width="0.5"/>
<rect x="272.84" y="174.20" width="16.96" height="9.10" fill="#e7f6eb" stroke="#b0b0b0" stroke-width="0.5"/>
<rect x="289.80" y="174.20" width="16.96" height="9.10" fill="#6a99c7" stroke="#b0b0b0" stroke-width="0.5"/>
<rect x="306.76" y="174.20" width="16.96" height="9.10" fill="#a1c9e1" stroke="#b0b0b0" stroke-width="0.5"/>
<rect x="323.72" y="174.20" width="16.96" height="9.10" fill="#ddf1f7" stroke="#b0b0b0" stroke-width="0.5"/>
<rect x="340.68" y="174.20" width="16.96" height="9.10" fill="#c3e0ed" stroke="#b0b0b0" stroke-width="0.5"/>
<rect x="357.64" y="174.20" width="16.96" height="9.10" fill="#bfddec" stroke="#b0b0b0" stroke-width="0.5"/>
<rect x="35.40" y="183.30" width="16.96" height="9.10" fill="#f1fad8" stroke="#b0b0b0" stroke-width="0.5"/>
<rect x="52.36" y="183.30" width="16.96" height="9.10" fill="#fff8b5" stroke="#b0b0b0" stroke-width="0.5"/>
<rect x="69.32" y="183.30" width="16.96" height="9.10" fill="#e2f4f4" stroke="#b0b0b0" stroke-width="0.5"/>
<rect x="86.28" y="183.30" width="16.96" height="9.10" fill="#ebf7e4" stroke="#b0b0b0" stroke-width="0.5"/>
<rect x="103.24" y="183.30" width="16.96" height="9.10" fill="#f5fbd2" stroke="#b0b0b0" stroke-width="0.5"/>
<rect x="120.20" y="183.30" width="16.96" height="9.10" fill="#f5fbd2" stroke="#b0b0b0" stroke-width="0.5"/>
<rect x="137.16" y="183.30" width="16.96" height="9.10" fill="#fb8b58" stroke="#b0b0b0" stroke-width="0.5"/>
<rect x="154.12" y="183.30" width="16.96" height="9.10" fill="#d73027" stroke="#b0b0b0" stroke-width="0.5"/>
<rect x="171.08" y="183.30" width="16.96" height="9.10" fill="#fee496" stroke="#b0b0b0" stroke-width="0.5"/>
<rect x="188.04" y="183.30" width="16.96" height="9.10" fill="#fee99e" stroke="#b0b0b0" stroke-width="0.5"/>
<rect x="205.00" y="183.30" width="16.96" height="9.10" fill="#fffdbc" stroke="#b0b0b0" stroke-width="0.5"/>
<rect x="221.96" y="183.30" width="16.96" height="9.10" fill="#fff7b2" stroke="#b0b0b0" stroke-width="0.5"/>
<rect x="238.92" y="183.30" width="16.96" height="9.10" fill="#fcfec5" stroke="#b0b0b0" stroke-width="0.5"/>
<rect x="255.88" y="183.30" width="16.96" height="9.10" fill="#fcfec5" stroke="#b0b0b0" stroke-width="0.5"/>
<rect x="272.84" y="183.30" width="16.96" height="9.10" fill="#f8fccb" stroke="#b0b0b0" stroke-width="0.5"/>
<rect x="289.80" y="183.30" width="16.96" height="9.10" fill="#7faed2" stroke="#b0b0b0" stroke-width="0.5"/>
<rect x="306.76" y="183.30" width="16.96" height="9.10" fill="#73a1cb" stroke="#b0b0b0" stroke-width="0.5"/>
<rect x="323.72" y="183.30" width="16.96" height="9.10" fill="#e1f3f7" stroke="#b0b0b0" stroke-width="0.5"/>
<rect x="340.68" y="183.30" width="16.96" height="9.10" fill="#d9eef5" stroke="#b0b0b0" stroke-width="0.5"/>
<rect x="357.64" y="183.30" width="16.96" height="9.10" fill="#d5ebf4" stroke="#b0b0b0" stroke-width="0.5"/>
<rect x="35.40" y="192.40" width="16.96" height="9.10" fill="#fff8b5" stroke="#b0b0b0" stroke-width="0.5"/>
<rect x="52.36" y="192.40" width="16.96" height="9.10" fill="#f0f9db" stroke="#b0b0b0" stroke-width="0.5"/>
<rect x="69.32" y="192.40" width="16.96" height="9.10" fill="#e6f5ee" stroke="#b0b0b0" stroke-width="0.5"/>
<rect x="86.28" y="192.40" width="16.96" height="9.10" fill="#e6f5ee" stroke="#b0b0b0" stroke-width="0.5"/>
<rect x="103.24" y="192.40" width="16.96" height="9.10" fill="#f7fccf" stroke="#b0b0b0" stroke-width="0.5"/>
<rect x="120.20" y="192.40" width="16.96" height="9.10" fill="#fffcba" stroke="#b0b0b0" stroke-width="0.5"/>
<rect x="137.16" y="192.40" width="16.96" height="9.10" fill="#fee699" stroke="#b0b0b0" stroke-width="0.5"/>
<rect x="154.12" y="192.40" width="16.96" height="9.10" fill="#fffab7" stroke="#b0b0b0" stroke-width="0.5"/>
<rect x="171.08" y="192.40" width="16.96" height="9.10" fill="#fedd8e" stroke="#b0b0b0" stroke-width="0.5"/>
<rect x="188.04" y="192.40" width="16.96" height="9.10" fill="#fff3ad" stroke="#b0b0b0" stroke-width="0.5"/>
<rect x="205.00" y="192.40" width="16.96" height="9.10" fill="#fdc67f" stroke="#b0b0b0" stroke-width="0.5"/>
<rect x="221.96" y="192.40" width="16.96" height="9.10" fill="#fed88b" stroke="#b0b0b0" stroke-width="0.5"/>
<rect x="238.92" y="192.40" width="16.96" height="9.10" fill="#98c4de" stroke="#b0b0b0" stroke-width="0.5"/>
<rect x="255.88" y="192.40" width="16.96" height="9.10" fill="#c3e0ed" stroke="#b0b0b0" stroke-width="0.5"/>
<rect x="272.84" y="192.40" width="16.96" height="9.10" fill="#a9cfe4" stroke="#b0b0b0" stroke-width="0.5"/>
<rect x="289.80" y="192.40" width="16.96" height="9.10" fill="#8bbad8" stroke="#b0b0b0" stroke-width="0.5"/>
<rect x="306.76" y="192.40" width="16.96" height="9.10" fill="#bbdaea" stroke="#b0b0b0" stroke-width="0.5"/>
<rect x="323.72" y="192.40" width="16.96" height="9.10" fill="#c3e0ed" stroke="#b0b0b0" stroke-width="0.5"/>
<rect x="340.68" y="192.40" width="16.96" height="9.10" fill="#b6d8e9" stroke="#b0b0b0" stroke-width="0.5"/>
<rect x="357.64" y="192.40" width="16.96" height="9.10" fill="#bbdaea" stroke="#b0b0b0" stroke-width="0.5"/>
<rect x="35.40" y="201.50" width="16.96" height="9.10" fill="#c8e3ef" stroke="#b0b0b0" stroke-width="0.5"/>
<rect x="52.36" y="201.50" width="16.96" height="9.10" fill="#e1f3f7" stroke="#b0b0b0" stroke-width="0.5"/>
<rect x="69.32" y="201.50" width="16.96" height="9.10" fill="#ecf8e1" stroke="#b0b0b0" stroke-width="0.5"/>
<rect x="86.28" y="201.50" width="16.96" height="9.10" fill="#f1fad8" stroke="#b0b0b0" stroke-width="0.5"/>
<rect x="103.24" y="201.50" width="16.96" height="9.10" fill="#e9f6e7" stroke="#b0b0b0" stroke-width="0.5"/>
<rect x="120.20" y="201.50" width="16.96" height="9.10" fill="#e4f5f1" stroke="#b0b0b0" stroke-width="0.5"/>
<rect x="137.16" y="201.50" width="16.96" height="9.10" fill="#fff3ad" stroke="#b0b0b0" stroke-width="0.5"/>
<rect x="154.12" y="201.50" width="16.96" height="9.10" fill="#fff8b5" stroke="#b0b0b0" stroke-width="0.5"/>
<rect x="171.08" y="201.50" width="16.96" height="9.10" fill="#fafdc8" stroke="#b0b0b0" stroke-width="0.5"/>
<rect x="188.04" y="201.50" width="16.96" height="9.10" fill="#fff5b0" stroke="#b0b0b0" stroke-width="0.5"/>
<rect x="205.00" y="201.50" width="16.96" height="9.10" fill="#fffcba" stroke="#b0b0b0" stroke-width="0.5"/>
<rect x="221.96" y="201.50" width="16.96" height="9.10" fill="#fff5b0" stroke="#b0b0b0" stroke-width="0.5"/>
<rect x="238.92" y="201.50" width="16.96" height="9.10" fill="#fee699" stroke="#b0b0b0" stroke-width="0.5"/>
<rect x="255.88" y="201.50" width="16.96" height="9.10" fill="#e4f5f1" stroke="#b0b0b0" stroke-width="0.5"/>
<rect x="272.84" y="201.50" width="16.96" height="9.10" fill="#cce6f1" stroke="#b0b0b0" stroke-width="0.5"/>
<rect x="289.80" y="201.50" width="16.96" height="9.10" fill="#fffab7" stroke="#b0b0b0" stroke-width="0.5"/>
<rect x="306.76" y="201.50" width="16.96" height="9.10" fill="#d0e9f2" stroke="#b0b0b0" stroke-width="0.5"/>
<rect x="323.72" y="201.50" width="16.96" height="9.10" fill="#9cc7df" stroke="#b0b0b0" stroke-width="0.5"/>
<rect x="340.68" y="201.50" width="16.96" height="9.10" fill="#c8e3ef" stroke="#b0b0b0" stroke-width="0.5"/>
<rect x="357.64" y="201.50" width="16.96" height="9.10" fill="#d5ebf4" stroke="#b0b0b0" stroke-width="0.5"/>
<rect x="35.40" y="210.60" width="16.96" height="9.10" fill="#e9f6e7" stroke="#b0b0b0" stroke-width="0.5"/>
<rect x="52.36" y="210.60" width="16.96" height="9.10" fill="#f0f9db" stroke="#b0b0b0" stroke-width="0.5"/>
<rect x="69.32" y="210.60" width="16.96" height="9.10" fill="#e4f5f1" stroke="#b0b0b0" stroke-width="0.5"/>
<rect x="86.28" y="210.60" width="16.96" height="9.10" fill="#f1fad8" stroke="#b0b0b0" stroke-width="0.5"/>
<rect x="103.24" y="210.60" width="16.96" height="9.10" fill="#e7f6eb" stroke="#b0b0b0" stroke-width="0.5"/>
<rect x="120.20" y="210.60" width="16.96" height="9.10" fill="#f7fccf" stroke="#b0b0b0" stroke-width="0.5"/>
<rect x="137.16" y="210.60" width="16.96" height="9.10" fill="#fff0a8" stroke="#b0b0b0" stroke-width="0.5"/>
<rect x="154.12" y="210.60" width="16.96" height="9.10" fill="#fafdc8" stroke="#b0b0b0" stroke-width="0.5"/>
<rect x="171.08" y="210.60" width="16.96" height="9.10" fill="#f0f9db" stroke="#b0b0b0" stroke-width="0.5"/>
<rect x="188.04" y="210.60" width="16.96" height="9.10" fill="#fdfec2" stroke="#b0b0b0" stroke-width="0.5"/>
<rect x="205.00" y="210.60" width="16.96" height="9.10" fill="#f5fbd2" stroke="#b0b0b0" stroke-width="0.5"/>
<rect x="221.96" y="210.60" width="16.96" height="9.10" fill="#ffffbf" stroke="#b0b0b0" stroke-width="0.5"/>
<rect x="238.92" y="210.60" width="16.96" height="9.10" fill="#ddf1f7" stroke="#b0b0b0" stroke-width="0.5"/>
<rect x="255.88" y="210.60" width="16.96" height="9.10" fill="#fafdc8" stroke="#b0b0b0" stroke-width="0.5"/>
<rect x="272.84" y="210.60" width="16.96" height="9.10" fill="#ebf7e4" stroke="#b0b0b0" stroke-width="0.5"/>
<rect x="289.80" y="210.60" width="16.96" height="9.10" fill="#b2d5e7" stroke="#b0b0b0" stroke-width="0.5"/>
<rect x="306.76" y="210.60" width="16.96" height="9.10" fill="#b6d8e9" stroke="#b0b0b0" stroke-width="0.5"/>
<rect x="323.72" y="210.60" width="16.96" height="9.10" fill="#d5ebf4" stroke="#b0b0b0" stroke-width="0.5"/>
<rect x="340.68" y="210.60" width="16.96" height="9.10" fill="#e2f4f4" stroke="#b0b0b0" stroke-width="0.5"/>
<rect x="357.64" y="210.60" width="16.96" height="9.10" fill="#e4f5f1" stroke="#b0b0b0" stroke-width="0.5"/>
<rect x="35.40" y="219.70" width="16.96" height="9.10" fill="#e6f5ee" stroke="#b0b0b0" stroke-width="0.5"/>
<rect x="52.36" y="219.70" width="16.96" height="9.10" fill="#f1fad8" stroke="#b0b0b0" stroke-width="0.5"/>
<rect x="69.32" y="219.70" width="16.96" height="9.10" fill="#f0f9db" stroke="#b0b0b0" stroke-width="0.5"/>
<rect x="86.28" y="219.70" width="16.96" height="9.10" fill="#e7f6eb" stroke="#b0b0b0" stroke-width="0.5"/>
<rect x="103.24" y="219.70" width="16.96" height="9.10" fill="#f0f9db" stroke="#b0b0b0" stroke-width="0.5"/>
<rect x="120.20" y="219.70" width="16.96" height="9.10" fill="#f0f9db" stroke="#b0b0b0" stroke-width="0.5"/>
<rect x="137.16" y="219.70" width="16.96" height="9.10" fill="#fff3ad" stroke="#b0b0b0" stroke-width="0.5"/>
<rect x="154.12" y="219.70" width="16.96" height="9.10" fill="#fcfec5" stroke="#b0b0b0" stroke-width="0.5"/>
<rect x="171.08" y="219.70" width="16.96" height="9.10" fill="#e6f5ee" stroke="#b0b0b0" stroke-width="0.5"/>
<rect x="188.04" y="219.70" width="16.96" height="9.10" fill="#f7fccf" stroke="#b0b0b0" stroke-width="0.5"/>
<rect x="205.00" y="219.70" width="16.96" height="9.10" fill="#e2f4f4" stroke="#b0b0b0" stroke-width="0.5"/>
<rect x="221.96" y="219.70" width="16.96" height="9.10" fill="#ecf8e1" stroke="#b0b0b0" stroke-width="0.5"/>
<rect x="238.92" y="219.70" width="16.96" height="9.10" fill="#e2f4f4" stroke="#b0b0b0" stroke-width="0.5"/>
<rect x="255.88" y="219.70" width="16.96" height="9.10" fill="#eef8de" stroke="#b0b0b0" stroke-width="0.5"/>
<rect x="272.84" y="219.70" width="16.96" height="9.10" fill="#e7f6eb" stroke="#b0b0b0" stroke-width="0.5"/>
<rect x="289.80" y="219.70" width="16.96" height="9.10" fill="#bbdaea" stroke="#b0b0b0" stroke-width="0.5"/>
<rect x="306.76" y="219.70" width="16.96" height="9.10" fill="#b2d5e7" stroke="#b0b0b0" stroke-width="0.5"/>
<rect x="323.72" y="219.70" width="16.96" height="9.10" fill="#cce6f1" stroke="#b0b0b0" stroke-width="0.5"/>
<rect x="340.68" y="219.70" width="16.96" height="9.10" fill="#e2f4f4" stroke="#b0b0b0" stroke-width="0.5"/>
<rect x="357.64" y="219.70" width="16.96" height="9.10" fill="#e6f5ee" stroke="#b0b0b0" stroke-width="0.5"/>
</g><g font-family='"Liberation Sans", sans-serif' fill="#4d4d4d">
<text transform="translate(43.88,53.80) scale(0.9,1)" font-size="6.8" text-anchor="middle" fill="#4f4f4f">0.28</text>
<text transform="translate(60.84,53.80) scale(0.9,1)" font-size="6.8" text-anchor="middle" fill="#4f4f4f">0.28</text>
<text transform="translate(77.80,53.80) scale(0.9,1)" font-size="6.8" text-anchor="middle" fill="#4f4f4f">−0.12</text>
<text transform="translate(94.76,53.80) scale(0.9,1)" font-size="6.8" text-anchor="middle" fill="#4f4f4f">−0.20</text>
<text transform="translate(111.72,53.80) scale(0.9,1)" font-size="6.8" text-anchor="middle" fill="#4f4f4f">−0.19</text>
<text transform="translate(128.68,53.80) scale(0.9,1)" font-size="6.8" text-anchor="middle" fill="#4f4f4f">−0.04</text>
<text transform="translate(145.64,53.80) scale(0.9,1)" font-size="6.8" text-anchor="middle" fill="#4f4f4f">−0.20</text>
<text transform="translate(162.60,53.80) scale(0.9,1)" font-size="6.8" text-anchor="middle" fill="#4f4f4f">−0.18</text>
<text transform="translate(179.56,53.80) scale(0.9,1)" font-size="6.8" text-anchor="middle" fill="#4f4f4f">−0.23</text>
<text transform="translate(196.52,53.80) scale(0.9,1)" font-size="6.8" text-anchor="middle" fill="#4f4f4f">−0.28</text>
<text transform="translate(213.48,53.80) scale(0.9,1)" font-size="6.8" text-anchor="middle" fill="#4f4f4f">−0.20</text>
<text transform="translate(230.44,53.80) scale(0.9,1)" font-size="6.8" text-anchor="middle" fill="#4f4f4f">0.06</text>
<text transform="translate(247.40,53.80) scale(0.9,1)" font-size="6.8" text-anchor="middle" fill="#4f4f4f">−0.25</text>
<text transform="translate(264.36,53.80) scale(0.9,1)" font-size="6.8" text-anchor="middle" fill="#4f4f4f">−0.20</text>
<text transform="translate(281.32,53.80) scale(0.9,1)" font-size="6.8" text-anchor="middle" fill="#4f4f4f">−0.10</text>
<text transform="translate(298.28,53.80) scale(0.9,1)" font-size="6.8" text-anchor="middle" fill="#4f4f4f">−0.02</text>
<text transform="translate(315.24,53.80) scale(0.9,1)" font-size="6.8" text-anchor="middle" fill="#4f4f4f">0.39</text>
<text transform="translate(332.20,53.80) scale(0.9,1)" font-size="6.8" text-anchor="middle" fill="#4f4f4f">0.36</text>
<text transform="translate(349.16,53.80) scale(0.9,1)" font-size="6.8" text-anchor="middle" fill="#4f4f4f">−0.06</text>
<text transform="translate(366.12,53.80) scale(0.9,1)" font-size="6.8" text-anchor="middle" fill="#4f4f4f">−0.07</text>
<text transform="translate(43.88,62.90) scale(0.9,1)" font-size="6.8" text-anchor="middle" fill="#4f4f4f">−0.09</text>
<text transform="translate(60.84,62.90) scale(0.9,1)" font-size="6.8" text-anchor="middle" fill="#4f4f4f">−0.08</text>
<text transform="translate(77.80,62.90) scale(0.9,1)" font-size="6.8" text-anchor="middle" fill="#4f4f4f">−0.07</text>
<text transform="translate(94.76,62.90) scale(0.9,1)" font-size="6.8" text-anchor="middle" fill="#4f4f4f">−0.08</text>
<text transform="translate(111.72,62.90) scale(0.9,1)" font-size="6.8" text-anchor="middle" fill="#4f4f4f">−0.12</text>
<text transform="translate(128.68,62.90) scale(0.9,1)" font-size="6.8" text-anchor="middle" fill="#4f4f4f">−0.14</text>
<text transform="translate(145.64,62.90) scale(0.9,1)" font-size="6.8" text-anchor="middle" fill="#4f4f4f">−0.10</text>
<text transform="translate(162.60,62.90) scale(0.9,1)" font-size="6.8" text-anchor="middle" fill="#4f4f4f">−0.11</text>
<text transform="translate(179.56,62.90) scale(0.9,1)" font-size="6.8" text-anchor="middle" fill="#4f4f4f">−0.08</text>
<text transform="translate(196.52,62.90) scale(0.9,1)" font-size="6.8" text-anchor="middle" fill="#4f4f4f">−0.09</text>
<text transform="translate(213.48,62.90) scale(0.9,1)" font-size="6.8" text-anchor="middle" fill="#4f4f4f">−0.06</text>
<text transform="translate(230.44,62.90) scale(0.9,1)" font-size="6.8" text-anchor="middle" fill="#4f4f4f">−0.04</text>
<text transform="translate(247.40,62.90) scale(0.9,1)" font-size="6.8" text-anchor="middle" fill="#4f4f4f">0.08</text>
<text transform="translate(264.36,62.90) scale(0.9,1)" font-size="6.8" text-anchor="middle" fill="#4f4f4f">−0.09</text>
<text transform="translate(281.32,62.90) scale(0.9,1)" font-size="6.8" text-anchor="middle" fill="#4f4f4f">−0.09</text>
<text transform="translate(298.28,62.90) scale(0.9,1)" font-size="6.8" text-anchor="middle" fill="#4f4f4f">0.04</text>
<text transform="translate(315.24,62.90) scale(0.9,1)" font-size="6.8" text-anchor="middle" fill="#4f4f4f">0.18</text>
<text transform="translate(332.20,62.90) scale(0.9,1)" font-size="6.8" text-anchor="middle" fill="#4f4f4f">−0.08</text>
<text transform="translate(349.16,62.90) scale(0.9,1)" font-size="6.8" text-anchor="middle" fill="#4f4f4f">−0.04</text>
<text transform="translate(366.12,62.90) scale(0.9,1)" font-size="6.8" text-anchor="middle" fill="#4f4f4f">−0.03</text>
<text transform="translate(43.88,72.00) scale(0.9,1)" font-size="6.8" text-anchor="middle" fill="#4f4f4f">−0.09</text>
<text transform="translate(60.84,72.00) scale(0.9,1)" font-size="6.8" text-anchor="middle" fill="#4f4f4f">−0.08</text>
<text transform="translate(77.80,72.00) scale(0.9,1)" font-size="6.8" text-anchor="middle" fill="#4f4f4f">−0.07</text>
<text transform="translate(94.76,72.00) scale(0.9,1)" font-size="6.8" text-anchor="middle" fill="#4f4f4f">−0.08</text>
<text transform="translate(111.72,72.00) scale(0.9,1)" font-size="6.8" text-anchor="middle" fill="#4f4f4f">−0.11</text>
<text transform="translate(128.68,72.00) scale(0.9,1)" font-size="6.8" text-anchor="middle" fill="#4f4f4f">−0.13</text>
<text transform="translate(145.64,72.00) scale(0.9,1)" font-size="6.8" text-anchor="middle" fill="#4f4f4f">−0.07</text>
<text transform="translate(162.60,72.00) scale(0.9,1)" font-size="6.8" text-anchor="middle" fill="#4f4f4f">−0.08</text>
<text transform="translate(179.56,72.00) scale(0.9,1)" font-size="6.8" text-anchor="middle" fill="#4f4f4f">−0.15</text>
<text transform="translate(196.52,72.00) scale(0.9,1)" font-size="6.8" text-anchor="middle" fill="#4f4f4f">−0.08</text>
<text transform="translate(213.48,72.00) scale(0.9,1)" font-size="6.8" text-anchor="middle" fill="#4f4f4f">−0.09</text>
<text transform="translate(230.44,72.00) scale(0.9,1)" font-size="6.8" text-anchor="middle" fill="#4f4f4f">−0.05</text>
<text transform="translate(247.40,72.00) scale(0.9,1)" font-size="6.8" text-anchor="middle" fill="#4f4f4f">0.08</text>
<text transform="translate(264.36,72.00) scale(0.9,1)" font-size="6.8" text-anchor="middle" fill="#4f4f4f">−0.07</text>
<text transform="translate(281.32,72.00) scale(0.9,1)" font-size="6.8" text-anchor="middle" fill="#4f4f4f">−0.08</text>
<text transform="translate(298.28,72.00) scale(0.9,1)" font-size="6.8" text-anchor="middle" fill="#4f4f4f">0.32</text>
<text transform="translate(315.24,72.00) scale(0.9,1)" font-size="6.8" text-anchor="middle" fill="#4f4f4f">0.00</text>
<text transform="translate(332.20,72.00) scale(0.9,1)" font-size="6.8" text-anchor="middle" fill="#4f4f4f">−0.08</text>
<text transform="translate(349.16,72.00) scale(0.9,1)" font-size="6.8" text-anchor="middle" fill="#4f4f4f">−0.03</text>
<text transform="translate(366.12,72.00) scale(0.9,1)" font-size="6.8" text-anchor="middle" fill="#4f4f4f">−0.03</text>
<text transform="translate(43.88,81.10) scale(0.9,1)" font-size="6.8" text-anchor="middle" fill="#4f4f4f">−0.10</text>
<text transform="translate(60.84,81.10) scale(0.9,1)" font-size="6.8" text-anchor="middle" fill="#4f4f4f">−0.16</text>
<text transform="translate(77.80,81.10) scale(0.9,1)" font-size="6.8" text-anchor="middle" fill="#4f4f4f">−0.20</text>
<text transform="translate(94.76,81.10) scale(0.9,1)" font-size="6.8" text-anchor="middle" fill="#4f4f4f">−0.19</text>
<text transform="translate(111.72,81.10) scale(0.9,1)" font-size="6.8" text-anchor="middle" fill="#4f4f4f">−0.19</text>
<text transform="translate(128.68,81.10) scale(0.9,1)" font-size="6.8" text-anchor="middle" fill="#4f4f4f">−0.16</text>
<text transform="translate(145.64,81.10) scale(0.9,1)" font-size="6.8" text-anchor="middle" fill="#4f4f4f">−0.16</text>
<text transform="translate(162.60,81.10) scale(0.9,1)" font-size="6.8" text-anchor="middle" fill="#4f4f4f">−0.21</text>
<text transform="translate(179.56,81.10) scale(0.9,1)" font-size="6.8" text-anchor="middle" fill="#4f4f4f">−0.14</text>
<text transform="translate(196.52,81.10) scale(0.9,1)" font-size="6.8" text-anchor="middle" fill="#4f4f4f">−0.25</text>
<text transform="translate(213.48,81.10) scale(0.9,1)" font-size="6.8" text-anchor="middle" fill="#4f4f4f">−0.22</text>
<text transform="translate(230.44,81.10) scale(0.9,1)" font-size="6.8" text-anchor="middle" fill="#4f4f4f">−0.16</text>
<text transform="translate(247.40,81.10) scale(0.9,1)" font-size="6.8" text-anchor="middle" fill="#4f4f4f">−0.06</text>
<text transform="translate(264.36,81.10) scale(0.9,1)" font-size="6.8" text-anchor="middle" fill="#4f4f4f">−0.18</text>
<text transform="translate(281.32,81.10) scale(0.9,1)" font-size="6.8" text-anchor="middle" fill="#4f4f4f">−0.01</text>
<text transform="translate(298.28,81.10) scale(0.9,1)" font-size="6.8" text-anchor="middle" fill="#4f4f4f">0.13</text>
<text transform="translate(315.24,81.10) scale(0.9,1)" font-size="6.8" text-anchor="middle" fill="#4f4f4f">0.06</text>
<text transform="translate(332.20,81.10) scale(0.9,1)" font-size="6.8" text-anchor="middle" fill="#4f4f4f">−0.07</text>
<text transform="translate(349.16,81.10) scale(0.9,1)" font-size="6.8" text-anchor="middle" fill="#4f4f4f">−0.07</text>
<text transform="translate(366.12,81.10) scale(0.9,1)" font-size="6.8" text-anchor="middle" fill="#4f4f4f">−0.07</text>
<text transform="translate(43.88,90.20) scale(0.9,1)" font-size="6.8" text-anchor="middle" fill="#4f4f4f">0.08</text>
<text transform="translate(60.84,90.20) scale(0.9,1)" font-size="6.8" text-anchor="middle" fill="#4f4f4f">0.09</text>
<text transform="translate(77.80,90.20) scale(0.9,1)" font-size="6.8" text-anchor="middle" fill="#4f4f4f">−0.11</text>
<text transform="translate(94.76,90.20) scale(0.9,1)" font-size="6.8" text-anchor="middle" fill="#4f4f4f">−0.16</text>
<text transform="translate(111.72,90.20) scale(0.9,1)" font-size="6.8" text-anchor="middle" fill="#4f4f4f">−0.17</text>
<text transform="translate(128.68,90.20) scale(0.9,1)" font-size="6.8" text-anchor="middle" fill="#4f4f4f">−0.16</text>
<text transform="translate(145.64,90.20) scale(0.9,1)" font-size="6.8" text-anchor="middle" fill="#4f4f4f">−0.15</text>
<text transform="translate(162.60,90.20) scale(0.9,1)" font-size="6.8" text-anchor="middle" fill="#4f4f4f">−0.14</text>
<text transform="translate(179.56,90.20) scale(0.9,1)" font-size="6.8" text-anchor="middle" fill="#4f4f4f">−0.12</text>
<text transform="translate(196.52,90.20) scale(0.9,1)" font-size="6.8" text-anchor="middle" fill="#4f4f4f">−0.23</text>
<text transform="translate(213.48,90.20) scale(0.9,1)" font-size="6.8" text-anchor="middle" fill="#4f4f4f">−0.14</text>
<text transform="translate(230.44,90.20) scale(0.9,1)" font-size="6.8" text-anchor="middle" fill="#4f4f4f">−0.10</text>
<text transform="translate(247.40,90.20) scale(0.9,1)" font-size="6.8" text-anchor="middle" fill="#4f4f4f">−0.16</text>
<text transform="translate(264.36,90.20) scale(0.9,1)" font-size="6.8" text-anchor="middle" fill="#4f4f4f">−0.16</text>
<text transform="translate(281.32,90.20) scale(0.9,1)" font-size="6.8" text-anchor="middle" fill="#4f4f4f">−0.12</text>
<text transform="translate(298.28,90.20) scale(0.9,1)" font-size="6.8" text-anchor="middle" fill="#4f4f4f">−0.01</text>
<text transform="translate(315.24,90.20) scale(0.9,1)" font-size="6.8" text-anchor="middle" fill="#4f4f4f">−0.07</text>
<text transform="translate(332.20,90.20) scale(0.9,1)" font-size="6.8" text-anchor="middle" fill="#4f4f4f">−0.01</text>
<text transform="translate(349.16,90.20) scale(0.9,1)" font-size="6.8" text-anchor="middle" fill="#4f4f4f">−0.06</text>
<text transform="translate(366.12,90.20) scale(0.9,1)" font-size="6.8" text-anchor="middle" fill="#4f4f4f">−0.06</text>
<text transform="translate(43.88,99.30) scale(0.9,1)" font-size="6.8" text-anchor="middle" fill="#4f4f4f">0.08</text>
<text transform="translate(60.84,99.30) scale(0.9,1)" font-size="6.8" text-anchor="middle" fill="#4f4f4f">−0.01</text>
<text transform="translate(77.80,99.30) scale(0.9,1)" font-size="6.8" text-anchor="middle" fill="#4f4f4f">−0.10</text>
<text transform="translate(94.76,99.30) scale(0.9,1)" font-size="6.8" text-anchor="middle" fill="#4f4f4f">−0.09</text>
<text transform="translate(111.72,99.30) scale(0.9,1)" font-size="6.8" text-anchor="middle" fill="#4f4f4f">0.06</text>
<text transform="translate(128.68,99.30) scale(0.9,1)" font-size="6.8" text-anchor="middle" fill="#4f4f4f">0.05</text>
<text transform="translate(145.64,99.30) scale(0.9,1)" font-size="6.8" text-anchor="middle" fill="#4f4f4f">0.07</text>
<text transform="translate(162.60,99.30) scale(0.9,1)" font-size="6.8" text-anchor="middle" fill="#4f4f4f">−0.00</text>
<text transform="translate(179.56,99.30) scale(0.9,1)" font-size="6.8" text-anchor="middle" fill="#4f4f4f">0.04</text>
<text transform="translate(196.52,99.30) scale(0.9,1)" font-size="6.8" text-anchor="middle" fill="#4f4f4f">−0.06</text>
<text transform="translate(213.48,99.30) scale(0.9,1)" font-size="6.8" text-anchor="middle" fill="#4f4f4f">0.16</text>
<text transform="translate(230.44,99.30) scale(0.9,1)" font-size="6.8" text-anchor="middle" fill="#4f4f4f">0.04</text>
<text transform="translate(247.40,99.30) scale(0.9,1)" font-size="6.8" text-anchor="middle" fill="#4f4f4f">−0.11</text>
<text transform="translate(264.36,99.30) scale(0.9,1)" font-size="6.8" text-anchor="middle" fill="#4f4f4f">−0.09</text>
<text transform="translate(281.32,99.30) scale(0.9,1)" font-size="6.8" text-anchor="middle" fill="#4f4f4f">−0.09</text>
<text transform="translate(298.28,99.30) scale(0.9,1)" font-size="6.8" text-anchor="middle" fill="#4f4f4f">−0.05</text>
<text transform="translate(315.24,99.30) scale(0.9,1)" font-size="6.8" text-anchor="middle" fill="#4f4f4f">−0.04</text>
<text transform="translate(332.20,99.30) scale(0.9,1)" font-size="6.8" text-anchor="middle" fill="#4f4f4f">−0.07</text>
<text transform="translate(349.16,99.30) scale(0.9,1)" font-size="6.8" text-anchor="middle" fill="#4f4f4f">−0.04</text>
<text transform="translate(366.12,99.30) scale(0.9,1)" font-size="6.8" text-anchor="middle" fill="#4f4f4f">−0.04</text>
<text transform="translate(43.88,108.40) scale(0.9,1)" font-size="6.8" text-anchor="middle" fill="#4f4f4f">0.02</text>
<text transform="translate(60.84,108.40) scale(0.9,1)" font-size="6.8" text-anchor="middle" fill="#4f4f4f">−0.04</text>
<text transform="translate(77.80,108.40) scale(0.9,1)" font-size="6.8" text-anchor="middle" fill="#4f4f4f">−0.07</text>
<text transform="translate(94.76,108.40) scale(0.9,1)" font-size="6.8" text-anchor="middle" fill="#4f4f4f">−0.05</text>
<text transform="translate(111.72,108.40) scale(0.9,1)" font-size="6.8" text-anchor="middle" fill="#4f4f4f">0.03</text>
<text transform="translate(128.68,108.40) scale(0.9,1)" font-size="6.8" text-anchor="middle" fill="#4f4f4f">0.01</text>
<text transform="translate(145.64,108.40) scale(0.9,1)" font-size="6.8" text-anchor="middle" fill="#4f4f4f">−0.09</text>
<text transform="translate(162.60,108.40) scale(0.9,1)" font-size="6.8" text-anchor="middle" fill="#4f4f4f">−0.08</text>
<text transform="translate(179.56,108.40) scale(0.9,1)" font-size="6.8" text-anchor="middle" fill="#4f4f4f">−0.02</text>
<text transform="translate(196.52,108.40) scale(0.9,1)" font-size="6.8" text-anchor="middle" fill="#4f4f4f">−0.05</text>
<text transform="translate(213.48,108.40) scale(0.9,1)" font-size="6.8" text-anchor="middle" fill="#4f4f4f">−0.08</text>
<text transform="translate(230.44,108.40) scale(0.9,1)" font-size="6.8" text-anchor="middle" fill="#4f4f4f">−0.06</text>
<text transform="translate(247.40,108.40) scale(0.9,1)" font-size="6.8" text-anchor="middle" fill="#4f4f4f">−0.03</text>
<text transform="translate(264.36,108.40) scale(0.9,1)" font-size="6.8" text-anchor="middle" fill="#4f4f4f">−0.02</text>
<text transform="translate(281.32,108.40) scale(0.9,1)" font-size="6.8" text-anchor="middle" fill="#4f4f4f">0.42</text>
<text transform="translate(298.28,108.40) scale(0.9,1)" font-size="6.8" text-anchor="middle" fill="#4f4f4f">−0.01</text>
<text transform="translate(315.24,108.40) scale(0.9,1)" font-size="6.8" text-anchor="middle" fill="#4f4f4f">0.39</text>
<text transform="translate(332.20,108.40) scale(0.9,1)" font-size="6.8" text-anchor="middle" fill="#4f4f4f">−0.05</text>
<text transform="translate(349.16,108.40) scale(0.9,1)" font-size="6.8" text-anchor="middle" fill="#4f4f4f">−0.03</text>
<text transform="translate(366.12,108.40) scale(0.9,1)" font-size="6.8" text-anchor="middle" fill="#4f4f4f">−0.03</text>
<text transform="translate(43.88,117.50) scale(0.9,1)" font-size="6.8" text-anchor="middle" fill="#4f4f4f">0.26</text>
<text transform="translate(60.84,117.50) scale(0.9,1)" font-size="6.8" text-anchor="middle" fill="#4f4f4f">0.30</text>
<text transform="translate(77.80,117.50) scale(0.9,1)" font-size="6.8" text-anchor="middle" fill="#4f4f4f">0.29</text>
<text transform="translate(94.76,117.50) scale(0.9,1)" font-size="6.8" text-anchor="middle" fill="#4f4f4f">0.23</text>
<text transform="translate(111.72,117.50) scale(0.9,1)" font-size="6.8" text-anchor="middle" fill="#4f4f4f">0.35</text>
<text transform="translate(128.68,117.50) scale(0.9,1)" font-size="6.8" text-anchor="middle" fill="#4f4f4f">0.44</text>
<text transform="translate(145.64,117.50) scale(0.9,1)" font-size="6.8" text-anchor="middle" fill="#4f4f4f">0.55</text>
<text transform="translate(162.60,117.50) scale(0.9,1)" font-size="6.8" text-anchor="middle" fill="#4f4f4f">0.48</text>
<text transform="translate(179.56,117.50) scale(0.9,1)" font-size="6.8" text-anchor="middle" fill="#4f4f4f">0.46</text>
<text transform="translate(196.52,117.50) scale(0.9,1)" font-size="6.8" text-anchor="middle" fill="#4f4f4f">0.48</text>
<text transform="translate(213.48,117.50) scale(0.9,1)" font-size="6.8" text-anchor="middle" fill="#4f4f4f">0.31</text>
<text transform="translate(230.44,117.50) scale(0.9,1)" font-size="6.8" text-anchor="middle" fill="#4f4f4f">0.19</text>
<text transform="translate(247.40,117.50) scale(0.9,1)" font-size="6.8" text-anchor="middle" fill="#4f4f4f">−0.00</text>
<text transform="translate(264.36,117.50) scale(0.9,1)" font-size="6.8" text-anchor="middle" fill="#4f4f4f">0.24</text>
<text transform="translate(281.32,117.50) scale(0.9,1)" font-size="6.8" text-anchor="middle" fill="#4f4f4f">0.24</text>
<text transform="translate(298.28,117.50) scale(0.9,1)" font-size="6.8" text-anchor="middle" fill="#4f4f4f">−0.27</text>
<text transform="translate(315.24,117.50) scale(0.9,1)" font-size="6.8" text-anchor="middle" fill="#4f4f4f">−0.21</text>
<text transform="translate(332.20,117.50) scale(0.9,1)" font-size="6.8" text-anchor="middle" fill="#4f4f4f">0.08</text>
<text transform="translate(349.16,117.50) scale(0.9,1)" font-size="6.8" text-anchor="middle" fill="#4f4f4f">0.02</text>
<text transform="translate(366.12,117.50) scale(0.9,1)" font-size="6.8" text-anchor="middle" fill="#4f4f4f">0.03</text>
<text transform="translate(43.88,126.60) scale(0.9,1)" font-size="6.8" text-anchor="middle" fill="#4f4f4f">0.31</text>
<text transform="translate(60.84,126.60) scale(0.9,1)" font-size="6.8" text-anchor="middle" fill="#4f4f4f">0.41</text>
<text transform="translate(77.80,126.60) scale(0.9,1)" font-size="6.8" text-anchor="middle" fill="#4f4f4f">0.32</text>
<text transform="translate(94.76,126.60) scale(0.9,1)" font-size="6.8" text-anchor="middle" fill="#4f4f4f">0.43</text>
<text transform="translate(111.72,126.60) scale(0.9,1)" font-size="6.8" text-anchor="middle" fill="#4f4f4f">0.41</text>
<text transform="translate(128.68,126.60) scale(0.9,1)" font-size="6.8" text-anchor="middle" fill="#4f4f4f">0.53</text>
<text transform="translate(145.64,126.60) scale(0.9,1)" font-size="6.8" text-anchor="middle" fill="#4f4f4f">0.56</text>
<text transform="translate(162.60,126.60) scale(0.9,1)" font-size="6.8" text-anchor="middle" fill="#4f4f4f">0.55</text>
<text transform="translate(179.56,126.60) scale(0.9,1)" font-size="6.8" text-anchor="middle" fill="#4f4f4f">0.55</text>
<text transform="translate(196.52,126.60) scale(0.9,1)" font-size="6.8" text-anchor="middle" fill="#4f4f4f">0.64</text>
<text transform="translate(213.48,126.60) scale(0.9,1)" font-size="6.8" text-anchor="middle" fill="#4f4f4f">0.41</text>
<text transform="translate(230.44,126.60) scale(0.9,1)" font-size="6.8" text-anchor="middle" fill="#4f4f4f">0.38</text>
<text transform="translate(247.40,126.60) scale(0.9,1)" font-size="6.8" text-anchor="middle" fill="#4f4f4f">0.06</text>
<text transform="translate(264.36,126.60) scale(0.9,1)" font-size="6.8" text-anchor="middle" fill="#4f4f4f">0.32</text>
<text transform="translate(281.32,126.60) scale(0.9,1)" font-size="6.8" text-anchor="middle" fill="#4f4f4f">0.25</text>
<text transform="translate(298.28,126.60) scale(0.9,1)" font-size="6.8" text-anchor="middle" fill="#4f4f4f">−0.34</text>
<text transform="translate(315.24,126.60) scale(0.9,1)" font-size="6.8" text-anchor="middle" fill="#4f4f4f">−0.16</text>
<text transform="translate(332.20,126.60) scale(0.9,1)" font-size="6.8" text-anchor="middle" fill="#4f4f4f">0.11</text>
<text transform="translate(349.16,126.60) scale(0.9,1)" font-size="6.8" text-anchor="middle" fill="#4f4f4f">0.02</text>
<text transform="translate(366.12,126.60) scale(0.9,1)" font-size="6.8" text-anchor="middle" fill="#4f4f4f">0.02</text>
<text transform="translate(43.88,135.70) scale(0.9,1)" font-size="6.8" text-anchor="middle" fill="#4f4f4f">0.38</text>
<text transform="translate(60.84,135.70) scale(0.9,1)" font-size="6.8" text-anchor="middle" fill="#4f4f4f">0.33</text>
<text transform="translate(77.80,135.70) scale(0.9,1)" font-size="6.8" text-anchor="middle" fill="#4f4f4f">0.50</text>
<text transform="translate(94.76,135.70) scale(0.9,1)" font-size="6.8" text-anchor="middle" fill="#4f4f4f">0.44</text>
<text transform="translate(111.72,135.70) scale(0.9,1)" font-size="6.8" text-anchor="middle" fill="#4f4f4f">0.68</text>
<text transform="translate(128.68,135.70) scale(0.9,1)" font-size="6.8" text-anchor="middle" fill="#4f4f4f">0.59</text>
<text transform="translate(145.64,135.70) scale(0.9,1)" font-size="6.8" text-anchor="middle" fill="#4f4f4f">0.32</text>
<text transform="translate(162.60,135.70) scale(0.9,1)" font-size="6.8" text-anchor="middle" fill="#4f4f4f">0.38</text>
<text transform="translate(179.56,135.70) scale(0.9,1)" font-size="6.8" text-anchor="middle" fill="#4f4f4f">0.74</text>
<text transform="translate(196.52,135.70) scale(0.9,1)" font-size="6.8" text-anchor="middle" fill="#4f4f4f">0.61</text>
<text transform="translate(213.48,135.70) scale(0.9,1)" font-size="6.8" text-anchor="middle" fill="#4f4f4f">0.70</text>
<text transform="translate(230.44,135.70) scale(0.9,1)" font-size="6.8" text-anchor="middle" fill="#4f4f4f">0.54</text>
<text transform="translate(247.40,135.70) scale(0.9,1)" font-size="6.8" text-anchor="middle" fill="#4f4f4f">0.04</text>
<text transform="translate(264.36,135.70) scale(0.9,1)" font-size="6.8" text-anchor="middle" fill="#4f4f4f">0.21</text>
<text transform="translate(281.32,135.70) scale(0.9,1)" font-size="6.8" text-anchor="middle" fill="#4f4f4f">0.09</text>
<text transform="translate(298.28,135.70) scale(0.9,1)" font-size="6.8" text-anchor="middle" fill="#4f4f4f">−0.31</text>
<text transform="translate(315.24,135.70) scale(0.9,1)" font-size="6.8" text-anchor="middle" fill="#4f4f4f">−0.03</text>
<text transform="translate(332.20,135.70) scale(0.9,1)" font-size="6.8" text-anchor="middle" fill="#4f4f4f">0.06</text>
<text transform="translate(349.16,135.70) scale(0.9,1)" font-size="6.8" text-anchor="middle" fill="#4f4f4f">−0.01</text>
<text transform="translate(366.12,135.70) scale(0.9,1)" font-size="6.8" text-anchor="middle" fill="#4f4f4f">0.01</text>
<text transform="translate(43.88,144.80) scale(0.9,1)" font-size="6.8" text-anchor="middle" fill="#4f4f4f">0.14</text>
<text transform="translate(60.84,144.80) scale(0.9,1)" font-size="6.8" text-anchor="middle" fill="#4f4f4f">0.30</text>
<text transform="translate(77.80,144.80) scale(0.9,1)" font-size="6.8" text-anchor="middle" fill="#4f4f4f">0.46</text>
<text transform="translate(94.76,144.80) scale(0.9,1)" font-size="6.8" text-anchor="middle" fill="#4f4f4f">0.42</text>
<text transform="translate(111.72,144.80) scale(0.9,1)" font-size="6.8" text-anchor="middle" fill="#4f4f4f">0.49</text>
<text transform="translate(128.68,144.80) scale(0.9,1)" font-size="6.8" text-anchor="middle" fill="#4f4f4f">0.42</text>
<text transform="translate(145.64,144.80) scale(0.9,1)" font-size="6.8" text-anchor="middle" fill="#4f4f4f">0.32</text>
<text transform="translate(162.60,144.80) scale(0.9,1)" font-size="6.8" text-anchor="middle" fill="#4f4f4f">0.46</text>
<text transform="translate(179.56,144.80) scale(0.9,1)" font-size="6.8" text-anchor="middle" fill="#4f4f4f">0.55</text>
<text transform="translate(196.52,144.80) scale(0.9,1)" font-size="6.8" text-anchor="middle" fill="#4f4f4f">0.61</text>
<text transform="translate(213.48,144.80) scale(0.9,1)" font-size="6.8" text-anchor="middle" fill="#4f4f4f">0.48</text>
<text transform="translate(230.44,144.80) scale(0.9,1)" font-size="6.8" text-anchor="middle" fill="#4f4f4f">0.43</text>
<text transform="translate(247.40,144.80) scale(0.9,1)" font-size="6.8" text-anchor="middle" fill="#4f4f4f">0.06</text>
<text transform="translate(264.36,144.80) scale(0.9,1)" font-size="6.8" text-anchor="middle" fill="#4f4f4f">0.29</text>
<text transform="translate(281.32,144.80) scale(0.9,1)" font-size="6.8" text-anchor="middle" fill="#4f4f4f">0.14</text>
<text transform="translate(298.28,144.80) scale(0.9,1)" font-size="6.8" text-anchor="middle" fill="#4f4f4f">−0.24</text>
<text transform="translate(315.24,144.80) scale(0.9,1)" font-size="6.8" text-anchor="middle" fill="#4f4f4f">−0.10</text>
<text transform="translate(332.20,144.80) scale(0.9,1)" font-size="6.8" text-anchor="middle" fill="#4f4f4f">0.07</text>
<text transform="translate(349.16,144.80) scale(0.9,1)" font-size="6.8" text-anchor="middle" fill="#4f4f4f">−0.01</text>
<text transform="translate(366.12,144.80) scale(0.9,1)" font-size="6.8" text-anchor="middle" fill="#4f4f4f">0.00</text>
<text transform="translate(43.88,153.90) scale(0.9,1)" font-size="6.8" text-anchor="middle" fill="#4f4f4f">0.17</text>
<text transform="translate(60.84,153.90) scale(0.9,1)" font-size="6.8" text-anchor="middle" fill="#4f4f4f">0.29</text>
<text transform="translate(77.80,153.90) scale(0.9,1)" font-size="6.8" text-anchor="middle" fill="#4f4f4f">0.44</text>
<text transform="translate(94.76,153.90) scale(0.9,1)" font-size="6.8" text-anchor="middle" fill="#4f4f4f">0.30</text>
<text transform="translate(111.72,153.90) scale(0.9,1)" font-size="6.8" text-anchor="middle" fill="#4f4f4f">0.47</text>
<text transform="translate(128.68,153.90) scale(0.9,1)" font-size="6.8" text-anchor="middle" fill="#4f4f4f">0.38</text>
<text transform="translate(145.64,153.90) scale(0.9,1)" font-size="6.8" text-anchor="middle" fill="#4f4f4f">0.36</text>
<text transform="translate(162.60,153.90) scale(0.9,1)" font-size="6.8" text-anchor="middle" fill="#4f4f4f">0.50</text>
<text transform="translate(179.56,153.90) scale(0.9,1)" font-size="6.8" text-anchor="middle" fill="#4f4f4f">0.58</text>
<text transform="translate(196.52,153.90) scale(0.9,1)" font-size="6.8" text-anchor="middle" fill="#4f4f4f">0.63</text>
<text transform="translate(213.48,153.90) scale(0.9,1)" font-size="6.8" text-anchor="middle" fill="#4f4f4f">0.48</text>
<text transform="translate(230.44,153.90) scale(0.9,1)" font-size="6.8" text-anchor="middle" fill="#4f4f4f">0.42</text>
<text transform="translate(247.40,153.90) scale(0.9,1)" font-size="6.8" text-anchor="middle" fill="#4f4f4f">−0.01</text>
<text transform="translate(264.36,153.90) scale(0.9,1)" font-size="6.8" text-anchor="middle" fill="#4f4f4f">0.21</text>
<text transform="translate(281.32,153.90) scale(0.9,1)" font-size="6.8" text-anchor="middle" fill="#4f4f4f">0.16</text>
<text transform="translate(298.28,153.90) scale(0.9,1)" font-size="6.8" text-anchor="middle" fill="#4f4f4f">−0.25</text>
<text transform="translate(315.24,153.90) scale(0.9,1)" font-size="6.8" text-anchor="middle" fill="#4f4f4f">−0.11</text>
<text transform="translate(332.20,153.90) scale(0.9,1)" font-size="6.8" text-anchor="middle" fill="#4f4f4f">0.04</text>
<text transform="translate(349.16,153.90) scale(0.9,1)" font-size="6.8" text-anchor="middle" fill="#4f4f4f">0.04</text>
<text transform="translate(366.12,153.90) scale(0.9,1)" font-size="6.8" text-anchor="middle" fill="#4f4f4f">0.05</text>
<text transform="translate(43.88,163.00) scale(0.9,1)" font-size="6.8" text-anchor="middle" fill="#4f4f4f">0.19</text>
<text transform="translate(60.84,163.00) scale(0.9,1)" font-size="6.8" text-anchor="middle" fill="#4f4f4f">0.24</text>
<text transform="translate(77.80,163.00) scale(0.9,1)" font-size="6.8" text-anchor="middle" fill="#4f4f4f">0.34</text>
<text transform="translate(94.76,163.00) scale(0.9,1)" font-size="6.8" text-anchor="middle" fill="#4f4f4f">0.30</text>
<text transform="translate(111.72,163.00) scale(0.9,1)" font-size="6.8" text-anchor="middle" fill="#4f4f4f">0.35</text>
<text transform="translate(128.68,163.00) scale(0.9,1)" font-size="6.8" text-anchor="middle" fill="#4f4f4f">0.30</text>
<text transform="translate(145.64,163.00) scale(0.9,1)" font-size="6.8" text-anchor="middle" fill="#4f4f4f">0.20</text>
<text transform="translate(162.60,163.00) scale(0.9,1)" font-size="6.8" text-anchor="middle" fill="#4f4f4f">0.21</text>
<text transform="translate(179.56,163.00) scale(0.9,1)" font-size="6.8" text-anchor="middle" fill="#4f4f4f">0.47</text>
<text transform="translate(196.52,163.00) scale(0.9,1)" font-size="6.8" text-anchor="middle" fill="#4f4f4f">0.52</text>
<text transform="translate(213.48,163.00) scale(0.9,1)" font-size="6.8" text-anchor="middle" fill="#4f4f4f">0.63</text>
<text transform="translate(230.44,163.00) scale(0.9,1)" font-size="6.8" text-anchor="middle" fill="#4f4f4f">0.55</text>
<text transform="translate(247.40,163.00) scale(0.9,1)" font-size="6.8" text-anchor="middle" fill="#4f4f4f">−0.06</text>
<text transform="translate(264.36,163.00) scale(0.9,1)" font-size="6.8" text-anchor="middle" fill="#4f4f4f">0.07</text>
<text transform="translate(281.32,163.00) scale(0.9,1)" font-size="6.8" text-anchor="middle" fill="#4f4f4f">0.03</text>
<text transform="translate(298.28,163.00) scale(0.9,1)" font-size="6.8" text-anchor="middle" fill="#4f4f4f">−0.16</text>
<text transform="translate(315.24,163.00) scale(0.9,1)" font-size="6.8" text-anchor="middle" fill="#4f4f4f">−0.05</text>
<text transform="translate(332.20,163.00) scale(0.9,1)" font-size="6.8" text-anchor="middle" fill="#4f4f4f">−0.01</text>
<text transform="translate(349.16,163.00) scale(0.9,1)" font-size="6.8" text-anchor="middle" fill="#4f4f4f">−0.00</text>
<text transform="translate(366.12,163.00) scale(0.9,1)" font-size="6.8" text-anchor="middle" fill="#4f4f4f">0.02</text>
<text transform="translate(43.88,172.10) scale(0.9,1)" font-size="6.8" text-anchor="middle" fill="#4f4f4f">0.30</text>
<text transform="translate(60.84,172.10) scale(0.9,1)" font-size="6.8" text-anchor="middle" fill="#4f4f4f">0.21</text>
<text transform="translate(77.80,172.10) scale(0.9,1)" font-size="6.8" text-anchor="middle" fill="#4f4f4f">0.18</text>
<text transform="translate(94.76,172.10) scale(0.9,1)" font-size="6.8" text-anchor="middle" fill="#4f4f4f">0.18</text>
<text transform="translate(111.72,172.10) scale(0.9,1)" font-size="6.8" text-anchor="middle" fill="#4f4f4f">0.36</text>
<text transform="translate(128.68,172.10) scale(0.9,1)" font-size="6.8" text-anchor="middle" fill="#4f4f4f">0.30</text>
<text transform="translate(145.64,172.10) scale(0.9,1)" font-size="6.8" text-anchor="middle" fill="#4f4f4f">0.41</text>
<text transform="translate(162.60,172.10) scale(0.9,1)" font-size="6.8" text-anchor="middle" fill="#4f4f4f">0.45</text>
<text transform="translate(179.56,172.10) scale(0.9,1)" font-size="6.8" text-anchor="middle" fill="#4f4f4f">0.57</text>
<text transform="translate(196.52,172.10) scale(0.9,1)" font-size="6.8" text-anchor="middle" fill="#4f4f4f">0.38</text>
<text transform="translate(213.48,172.10) scale(0.9,1)" font-size="6.8" text-anchor="middle" fill="#4f4f4f">0.63</text>
<text transform="translate(230.44,172.10) scale(0.9,1)" font-size="6.8" text-anchor="middle" fill="#4f4f4f">0.47</text>
<text transform="translate(247.40,172.10) scale(0.9,1)" font-size="6.8" text-anchor="middle" fill="#4f4f4f">−0.01</text>
<text transform="translate(264.36,172.10) scale(0.9,1)" font-size="6.8" text-anchor="middle" fill="#4f4f4f">0.05</text>
<text transform="translate(281.32,172.10) scale(0.9,1)" font-size="6.8" text-anchor="middle" fill="#4f4f4f">−0.04</text>
<text transform="translate(298.28,172.10) scale(0.9,1)" font-size="6.8" text-anchor="middle" fill="#4f4f4f">−0.19</text>
<text transform="translate(315.24,172.10) scale(0.9,1)" font-size="6.8" text-anchor="middle" fill="#4f4f4f">−0.08</text>
<text transform="translate(332.20,172.10) scale(0.9,1)" font-size="6.8" text-anchor="middle" fill="#4f4f4f">−0.00</text>
<text transform="translate(349.16,172.10) scale(0.9,1)" font-size="6.8" text-anchor="middle" fill="#4f4f4f">−0.04</text>
<text transform="translate(366.12,172.10) scale(0.9,1)" font-size="6.8" text-anchor="middle" fill="#4f4f4f">−0.02</text>
<text transform="translate(43.88,181.20) scale(0.9,1)" font-size="6.8" text-anchor="middle" fill="#4f4f4f">0.25</text>
<text transform="translate(60.84,181.20) scale(0.9,1)" font-size="6.8" text-anchor="middle" fill="#4f4f4f">0.31</text>
<text transform="translate(77.80,181.20) scale(0.9,1)" font-size="6.8" text-anchor="middle" fill="#4f4f4f">0.37</text>
<text transform="translate(94.76,181.20) scale(0.9,1)" font-size="6.8" text-anchor="middle" fill="#4f4f4f">0.27</text>
<text transform="translate(111.72,181.20) scale(0.9,1)" font-size="6.8" text-anchor="middle" fill="#4f4f4f">0.45</text>
<text transform="translate(128.68,181.20) scale(0.9,1)" font-size="6.8" text-anchor="middle" fill="#4f4f4f">0.34</text>
<text transform="translate(145.64,181.20) scale(0.9,1)" font-size="6.8" text-anchor="middle" fill="#4f4f4f">0.45</text>
<text transform="translate(162.60,181.20) scale(0.9,1)" font-size="6.8" text-anchor="middle" fill="#4f4f4f">0.56</text>
<text transform="translate(179.56,181.20) scale(0.9,1)" font-size="6.8" text-anchor="middle" fill="#4f4f4f">0.61</text>
<text transform="translate(196.52,181.20) scale(0.9,1)" font-size="6.8" text-anchor="middle" fill="#4f4f4f">0.50</text>
<text transform="translate(213.48,181.20) scale(0.9,1)" font-size="6.8" text-anchor="middle" fill="#4f4f4f">0.48</text>
<text transform="translate(230.44,181.20) scale(0.9,1)" font-size="6.8" text-anchor="middle" fill="#4f4f4f">0.34</text>
<text transform="translate(247.40,181.20) scale(0.9,1)" font-size="6.8" text-anchor="middle" fill="#4f4f4f">0.00</text>
<text transform="translate(264.36,181.20) scale(0.9,1)" font-size="6.8" text-anchor="middle" fill="#4f4f4f">0.06</text>
<text transform="translate(281.32,181.20) scale(0.9,1)" font-size="6.8" text-anchor="middle" fill="#4f4f4f">0.07</text>
<text transform="translate(298.28,181.20) scale(0.9,1)" font-size="6.8" text-anchor="middle" fill="#4f4f4f">−0.25</text>
<text transform="translate(315.24,181.20) scale(0.9,1)" font-size="6.8" text-anchor="middle" fill="#4f4f4f">−0.12</text>
<text transform="translate(332.20,181.20) scale(0.9,1)" font-size="6.8" text-anchor="middle" fill="#4f4f4f">0.02</text>
<text transform="translate(349.16,181.20) scale(0.9,1)" font-size="6.8" text-anchor="middle" fill="#4f4f4f">−0.04</text>
<text transform="translate(366.12,181.20) scale(0.9,1)" font-size="6.8" text-anchor="middle" fill="#4f4f4f">−0.05</text>
<text transform="translate(43.88,190.30) scale(0.9,1)" font-size="6.8" text-anchor="middle" fill="#4f4f4f">0.13</text>
<text transform="translate(60.84,190.30) scale(0.9,1)" font-size="6.8" text-anchor="middle" fill="#4f4f4f">0.25</text>
<text transform="translate(77.80,190.30) scale(0.9,1)" font-size="6.8" text-anchor="middle" fill="#4f4f4f">0.04</text>
<text transform="translate(94.76,190.30) scale(0.9,1)" font-size="6.8" text-anchor="middle" fill="#4f4f4f">0.09</text>
<text transform="translate(111.72,190.30) scale(0.9,1)" font-size="6.8" text-anchor="middle" fill="#4f4f4f">0.15</text>
<text transform="translate(128.68,190.30) scale(0.9,1)" font-size="6.8" text-anchor="middle" fill="#4f4f4f">0.15</text>
<text transform="translate(145.64,190.30) scale(0.9,1)" font-size="6.8" text-anchor="middle" fill="#4f4f4f">0.58</text>
<text transform="translate(162.60,190.30) scale(0.9,1)" font-size="6.8" text-anchor="middle" fill="#4f4f4f">0.76</text>
<text transform="translate(179.56,190.30) scale(0.9,1)" font-size="6.8" text-anchor="middle" fill="#4f4f4f">0.37</text>
<text transform="translate(196.52,190.30) scale(0.9,1)" font-size="6.8" text-anchor="middle" fill="#4f4f4f">0.34</text>
<text transform="translate(213.48,190.30) scale(0.9,1)" font-size="6.8" text-anchor="middle" fill="#4f4f4f">0.22</text>
<text transform="translate(230.44,190.30) scale(0.9,1)" font-size="6.8" text-anchor="middle" fill="#4f4f4f">0.26</text>
<text transform="translate(247.40,190.30) scale(0.9,1)" font-size="6.8" text-anchor="middle" fill="#4f4f4f">0.19</text>
<text transform="translate(264.36,190.30) scale(0.9,1)" font-size="6.8" text-anchor="middle" fill="#4f4f4f">0.19</text>
<text transform="translate(281.32,190.30) scale(0.9,1)" font-size="6.8" text-anchor="middle" fill="#4f4f4f">0.17</text>
<text transform="translate(298.28,190.30) scale(0.9,1)" font-size="6.8" text-anchor="middle" fill="#4f4f4f">−0.20</text>
<text transform="translate(315.24,190.30) scale(0.9,1)" font-size="6.8" text-anchor="middle" fill="#4f4f4f">−0.23</text>
<text transform="translate(332.20,190.30) scale(0.9,1)" font-size="6.8" text-anchor="middle" fill="#4f4f4f">0.03</text>
<text transform="translate(349.16,190.30) scale(0.9,1)" font-size="6.8" text-anchor="middle" fill="#4f4f4f">0.01</text>
<text transform="translate(366.12,190.30) scale(0.9,1)" font-size="6.8" text-anchor="middle" fill="#4f4f4f">−0.00</text>
<text transform="translate(43.88,199.40) scale(0.9,1)" font-size="6.8" text-anchor="middle" fill="#4f4f4f">0.25</text>
<text transform="translate(60.84,199.40) scale(0.9,1)" font-size="6.8" text-anchor="middle" fill="#4f4f4f">0.12</text>
<text transform="translate(77.80,199.40) scale(0.9,1)" font-size="6.8" text-anchor="middle" fill="#4f4f4f">0.06</text>
<text transform="translate(94.76,199.40) scale(0.9,1)" font-size="6.8" text-anchor="middle" fill="#4f4f4f">0.06</text>
<text transform="translate(111.72,199.40) scale(0.9,1)" font-size="6.8" text-anchor="middle" fill="#4f4f4f">0.16</text>
<text transform="translate(128.68,199.40) scale(0.9,1)" font-size="6.8" text-anchor="middle" fill="#4f4f4f">0.23</text>
<text transform="translate(145.64,199.40) scale(0.9,1)" font-size="6.8" text-anchor="middle" fill="#4f4f4f">0.36</text>
<text transform="translate(162.60,199.40) scale(0.9,1)" font-size="6.8" text-anchor="middle" fill="#4f4f4f">0.24</text>
<text transform="translate(179.56,199.40) scale(0.9,1)" font-size="6.8" text-anchor="middle" fill="#4f4f4f">0.40</text>
<text transform="translate(196.52,199.40) scale(0.9,1)" font-size="6.8" text-anchor="middle" fill="#4f4f4f">0.28</text>
<text transform="translate(213.48,199.40) scale(0.9,1)" font-size="6.8" text-anchor="middle" fill="#4f4f4f">0.45</text>
<text transform="translate(230.44,199.40) scale(0.9,1)" font-size="6.8" text-anchor="middle" fill="#4f4f4f">0.41</text>
<text transform="translate(247.40,199.40) scale(0.9,1)" font-size="6.8" text-anchor="middle" fill="#4f4f4f">−0.14</text>
<text transform="translate(264.36,199.40) scale(0.9,1)" font-size="6.8" text-anchor="middle" fill="#4f4f4f">−0.04</text>
<text transform="translate(281.32,199.40) scale(0.9,1)" font-size="6.8" text-anchor="middle" fill="#4f4f4f">−0.10</text>
<text transform="translate(298.28,199.40) scale(0.9,1)" font-size="6.8" text-anchor="middle" fill="#4f4f4f">−0.17</text>
<text transform="translate(315.24,199.40) scale(0.9,1)" font-size="6.8" text-anchor="middle" fill="#4f4f4f">−0.06</text>
<text transform="translate(332.20,199.40) scale(0.9,1)" font-size="6.8" text-anchor="middle" fill="#4f4f4f">−0.04</text>
<text transform="translate(349.16,199.40) scale(0.9,1)" font-size="6.8" text-anchor="middle" fill="#4f4f4f">−0.07</text>
<text transform="translate(366.12,199.40) scale(0.9,1)" font-size="6.8" text-anchor="middle" fill="#4f4f4f">−0.06</text>
<text transform="translate(43.88,208.50) scale(0.9,1)" font-size="6.8" text-anchor="middle" fill="#4f4f4f">−0.03</text>
<text transform="translate(60.84,208.50) scale(0.9,1)" font-size="6.8" text-anchor="middle" fill="#4f4f4f">0.03</text>
<text transform="translate(77.80,208.50) scale(0.9,1)" font-size="6.8" text-anchor="middle" fill="#4f4f4f">0.10</text>
<text transform="translate(94.76,208.50) scale(0.9,1)" font-size="6.8" text-anchor="middle" fill="#4f4f4f">0.13</text>
<text transform="translate(111.72,208.50) scale(0.9,1)" font-size="6.8" text-anchor="middle" fill="#4f4f4f">0.08</text>
<text transform="translate(128.68,208.50) scale(0.9,1)" font-size="6.8" text-anchor="middle" fill="#4f4f4f">0.05</text>
<text transform="translate(145.64,208.50) scale(0.9,1)" font-size="6.8" text-anchor="middle" fill="#4f4f4f">0.28</text>
<text transform="translate(162.60,208.50) scale(0.9,1)" font-size="6.8" text-anchor="middle" fill="#4f4f4f">0.25</text>
<text transform="translate(179.56,208.50) scale(0.9,1)" font-size="6.8" text-anchor="middle" fill="#4f4f4f">0.18</text>
<text transform="translate(196.52,208.50) scale(0.9,1)" font-size="6.8" text-anchor="middle" fill="#4f4f4f">0.27</text>
<text transform="translate(213.48,208.50) scale(0.9,1)" font-size="6.8" text-anchor="middle" fill="#4f4f4f">0.23</text>
<text transform="translate(230.44,208.50) scale(0.9,1)" font-size="6.8" text-anchor="middle" fill="#4f4f4f">0.27</text>
<text transform="translate(247.40,208.50) scale(0.9,1)" font-size="6.8" text-anchor="middle" fill="#4f4f4f">0.36</text>
<text transform="translate(264.36,208.50) scale(0.9,1)" font-size="6.8" text-anchor="middle" fill="#4f4f4f">0.05</text>
<text transform="translate(281.32,208.50) scale(0.9,1)" font-size="6.8" text-anchor="middle" fill="#4f4f4f">−0.02</text>
<text transform="translate(298.28,208.50) scale(0.9,1)" font-size="6.8" text-anchor="middle" fill="#4f4f4f">0.24</text>
<text transform="translate(315.24,208.50) scale(0.9,1)" font-size="6.8" text-anchor="middle" fill="#4f4f4f">−0.01</text>
<text transform="translate(332.20,208.50) scale(0.9,1)" font-size="6.8" text-anchor="middle" fill="#4f4f4f">−0.13</text>
<text transform="translate(349.16,208.50) scale(0.9,1)" font-size="6.8" text-anchor="middle" fill="#4f4f4f">−0.03</text>
<text transform="translate(366.12,208.50) scale(0.9,1)" font-size="6.8" text-anchor="middle" fill="#4f4f4f">−0.00</text>
<text transform="translate(43.88,217.60) scale(0.9,1)" font-size="6.8" text-anchor="middle" fill="#4f4f4f">0.08</text>
<text transform="translate(60.84,217.60) scale(0.9,1)" font-size="6.8" text-anchor="middle" fill="#4f4f4f">0.12</text>
<text transform="translate(77.80,217.60) scale(0.9,1)" font-size="6.8" text-anchor="middle" fill="#4f4f4f">0.05</text>
<text transform="translate(94.76,217.60) scale(0.9,1)" font-size="6.8" text-anchor="middle" fill="#4f4f4f">0.13</text>
<text transform="translate(111.72,217.60) scale(0.9,1)" font-size="6.8" text-anchor="middle" fill="#4f4f4f">0.07</text>
<text transform="translate(128.68,217.60) scale(0.9,1)" font-size="6.8" text-anchor="middle" fill="#4f4f4f">0.16</text>
<text transform="translate(145.64,217.60) scale(0.9,1)" font-size="6.8" text-anchor="middle" fill="#4f4f4f">0.30</text>
<text transform="translate(162.60,217.60) scale(0.9,1)" font-size="6.8" text-anchor="middle" fill="#4f4f4f">0.18</text>
<text transform="translate(179.56,217.60) scale(0.9,1)" font-size="6.8" text-anchor="middle" fill="#4f4f4f">0.12</text>
<text transform="translate(196.52,217.60) scale(0.9,1)" font-size="6.8" text-anchor="middle" fill="#4f4f4f">0.20</text>
<text transform="translate(213.48,217.60) scale(0.9,1)" font-size="6.8" text-anchor="middle" fill="#4f4f4f">0.15</text>
<text transform="translate(230.44,217.60) scale(0.9,1)" font-size="6.8" text-anchor="middle" fill="#4f4f4f">0.21</text>
<text transform="translate(247.40,217.60) scale(0.9,1)" font-size="6.8" text-anchor="middle" fill="#4f4f4f">0.02</text>
<text transform="translate(264.36,217.60) scale(0.9,1)" font-size="6.8" text-anchor="middle" fill="#4f4f4f">0.18</text>
<text transform="translate(281.32,217.60) scale(0.9,1)" font-size="6.8" text-anchor="middle" fill="#4f4f4f">0.09</text>
<text transform="translate(298.28,217.60) scale(0.9,1)" font-size="6.8" text-anchor="middle" fill="#4f4f4f">−0.08</text>
<text transform="translate(315.24,217.60) scale(0.9,1)" font-size="6.8" text-anchor="middle" fill="#4f4f4f">−0.07</text>
<text transform="translate(332.20,217.60) scale(0.9,1)" font-size="6.8" text-anchor="middle" fill="#4f4f4f">−0.00</text>
<text transform="translate(349.16,217.60) scale(0.9,1)" font-size="6.8" text-anchor="middle" fill="#4f4f4f">0.04</text>
<text transform="translate(366.12,217.60) scale(0.9,1)" font-size="6.8" text-anchor="middle" fill="#4f4f4f">0.05</text>
<text transform="translate(43.88,226.70) scale(0.9,1)" font-size="6.8" text-anchor="middle" fill="#4f4f4f">0.06</text>
<text transform="translate(60.84,226.70) scale(0.9,1)" font-size="6.8" text-anchor="middle" fill="#4f4f4f">0.13</text>
<text transform="translate(77.80,226.70) scale(0.9,1)" font-size="6.8" text-anchor="middle" fill="#4f4f4f">0.12</text>
<text transform="translate(94.76,226.70) scale(0.9,1)" font-size="6.8" text-anchor="middle" fill="#4f4f4f">0.07</text>
<text transform="translate(111.72,226.70) scale(0.9,1)" font-size="6.8" text-anchor="middle" fill="#4f4f4f">0.12</text>
<text transform="translate(128.68,226.70) scale(0.9,1)" font-size="6.8" text-anchor="middle" fill="#4f4f4f">0.12</text>
<text transform="translate(145.64,226.70) scale(0.9,1)" font-size="6.8" text-anchor="middle" fill="#4f4f4f">0.28</text>
<text transform="translate(162.60,226.70) scale(0.9,1)" font-size="6.8" text-anchor="middle" fill="#4f4f4f">0.19</text>
<text transform="translate(179.56,226.70) scale(0.9,1)" font-size="6.8" text-anchor="middle" fill="#4f4f4f">0.06</text>
<text transform="translate(196.52,226.70) scale(0.9,1)" font-size="6.8" text-anchor="middle" fill="#4f4f4f">0.16</text>
<text transform="translate(213.48,226.70) scale(0.9,1)" font-size="6.8" text-anchor="middle" fill="#4f4f4f">0.04</text>
<text transform="translate(230.44,226.70) scale(0.9,1)" font-size="6.8" text-anchor="middle" fill="#4f4f4f">0.10</text>
<text transform="translate(247.40,226.70) scale(0.9,1)" font-size="6.8" text-anchor="middle" fill="#4f4f4f">0.04</text>
<text transform="translate(264.36,226.70) scale(0.9,1)" font-size="6.8" text-anchor="middle" fill="#4f4f4f">0.11</text>
<text transform="translate(281.32,226.70) scale(0.9,1)" font-size="6.8" text-anchor="middle" fill="#4f4f4f">0.07</text>
<text transform="translate(298.28,226.70) scale(0.9,1)" font-size="6.8" text-anchor="middle" fill="#4f4f4f">−0.06</text>
<text transform="translate(315.24,226.70) scale(0.9,1)" font-size="6.8" text-anchor="middle" fill="#4f4f4f">−0.08</text>
<text transform="translate(332.20,226.70) scale(0.9,1)" font-size="6.8" text-anchor="middle" fill="#4f4f4f">−0.02</text>
<text transform="translate(349.16,226.70) scale(0.9,1)" font-size="6.8" text-anchor="middle" fill="#4f4f4f">0.04</text>
<text transform="translate(366.12,226.70) scale(0.9,1)" font-size="6.8" text-anchor="middle" fill="#4f4f4f">0.06</text>
</g>
<text transform="translate(377.0,53.45) scale(0.92,1)" font-size="5.95" fill="#000" stroke="#000" stroke-width="0.04">ENST00000534336</text>
<text transform="translate(377.0,62.55) scale(0.92,1)" font-size="5.95" fill="#000" stroke="#000" stroke-width="0.04">ENST00000431095</text>
<text transform="translate(377.0,71.65) scale(0.92,1)" font-size="5.95" fill="#000" stroke="#000" stroke-width="0.04">ENST00000447296</text>
<text transform="translate(377.0,80.75) scale(0.92,1)" font-size="5.95" fill="#000" stroke="#000" stroke-width="0.04">ENST00000501122</text>
<text transform="translate(377.0,89.85) scale(0.92,1)" font-size="5.95" fill="#000" stroke="#000" stroke-width="0.04">ENST00000668129</text>
<text transform="translate(377.0,98.95) scale(0.92,1)" font-size="5.95" fill="#000" stroke="#000" stroke-width="0.04">ENST00000620902</text>
<text transform="translate(377.0,108.05) scale(0.92,1)" font-size="5.95" fill="#000" stroke="#000" stroke-width="0.04">ENST00000655317</text>
<text transform="translate(377.0,117.15) scale(0.92,1)" font-size="5.95" fill="#000" stroke="#000" stroke-width="0.04">ENST00000702504</text>
<text transform="translate(377.0,126.25) scale(0.92,1)" font-size="5.95" fill="#000" stroke="#000" stroke-width="0.04">ENST00000585493</text>
<text transform="translate(377.0,135.35) scale(0.92,1)" font-size="5.95" fill="#000" stroke="#000" stroke-width="0.04">ENST00000687724</text>
<text transform="translate(377.0,144.45) scale(0.92,1)" font-size="5.95" fill="#000" stroke="#000" stroke-width="0.04">ENST00000375640</text>
<text transform="translate(377.0,153.55) scale(0.92,1)" font-size="5.95" fill="#000" stroke="#000" stroke-width="0.04">ENST00000375638</text>
<text transform="translate(377.0,162.65) scale(0.92,1)" font-size="5.95" fill="#000" stroke="#000" stroke-width="0.04">ENST00000475947</text>
<text transform="translate(377.0,171.75) scale(0.92,1)" font-size="5.95" fill="#000" stroke="#000" stroke-width="0.04">ENST00000481027</text>
<text transform="translate(377.0,180.85) scale(0.92,1)" font-size="5.95" fill="#000" stroke="#000" stroke-width="0.04">ENST00000563192</text>
<text transform="translate(377.0,189.95) scale(0.92,1)" font-size="5.95" fill="#000" stroke="#000" stroke-width="0.04">ENST00000460249</text>
<text transform="translate(377.0,199.05) scale(0.92,1)" font-size="5.95" fill="#000" stroke="#000" stroke-width="0.04">ENST00000653954</text>
<text transform="translate(377.0,208.15) scale(0.92,1)" font-size="5.95" fill="#000" stroke="#000" stroke-width="0.04">ENST00000520944</text>
<text transform="translate(377.0,217.25) scale(0.92,1)" font-size="5.95" fill="#000" stroke="#000" stroke-width="0.04">ENST00000436715</text>
<text transform="translate(377.0,226.35) scale(0.92,1)" font-size="5.95" fill="#000" stroke="#000" stroke-width="0.04">ENST00000411661</text>
<text transform="translate(41.73,231) rotate(90) scale(0.86,1)" font-size="6.1" fill="#000" stroke="#000" stroke-width="0.04">ENST00000521628</text>
<text transform="translate(58.69,231) rotate(90) scale(0.86,1)" font-size="6.1" fill="#000" stroke="#000" stroke-width="0.04">ENST00000522723</text>
<text transform="translate(75.65,231) rotate(90) scale(0.86,1)" font-size="6.1" fill="#000" stroke="#000" stroke-width="0.04">ENST00000673283</text>
<text transform="translate(92.61,231) rotate(90) scale(0.86,1)" font-size="6.1" fill="#000" stroke="#000" stroke-width="0.04">ENST00000592494</text>
<text transform="translate(109.57,231) rotate(90) scale(0.86,1)" font-size="6.1" fill="#000" stroke="#000" stroke-width="0.04">ENST00000448664</text>
<text transform="translate(126.53,231) rotate(90) scale(0.86,1)" font-size="6.1" fill="#000" stroke="#000" stroke-width="0.04">ENST00000620664</text>
<text transform="translate(143.49,231) rotate(90) scale(0.86,1)" font-size="6.1" fill="#000" stroke="#000" stroke-width="0.04">ENST00000675917</text>
<text transform="translate(160.45,231) rotate(90) scale(0.86,1)" font-size="6.1" fill="#000" stroke="#000" stroke-width="0.04">ENST00000429437</text>
<text transform="translate(177.41,231) rotate(90) scale(0.86,1)" font-size="6.1" fill="#000" stroke="#000" stroke-width="0.04">ENST00000623639</text>
<text transform="translate(194.37,231) rotate(90) scale(0.86,1)" font-size="6.1" fill="#000" stroke="#000" stroke-width="0.04">ENST00000340385</text>
<text transform="translate(211.33,231) rotate(90) scale(0.86,1)" font-size="6.1" fill="#000" stroke="#000" stroke-width="0.04">ENST00000608221</text>
<text transform="translate(228.29,231) rotate(90) scale(0.86,1)" font-size="6.1" fill="#000" stroke="#000" stroke-width="0.04">ENST00000647248</text>
<text transform="translate(245.25,231) rotate(90) scale(0.86,1)" font-size="6.1" fill="#000" stroke="#000" stroke-width="0.04">ENST00000688805</text>
<text transform="translate(262.21,231) rotate(90) scale(0.86,1)" font-size="6.1" fill="#000" stroke="#000" stroke-width="0.04">ENST00000585339</text>
<text transform="translate(279.17,231) rotate(90) scale(0.86,1)" font-size="6.1" fill="#000" stroke="#000" stroke-width="0.04">ENST00000676800</text>
<text transform="translate(296.13,231) rotate(90) scale(0.86,1)" font-size="6.1" fill="#000" stroke="#000" stroke-width="0.04">ENST00000674671</text>
<text transform="translate(313.09,231) rotate(90) scale(0.86,1)" font-size="6.1" fill="#000" stroke="#000" stroke-width="0.04">ENST00000676209</text>
<text transform="translate(330.05,231) rotate(90) scale(0.86,1)" font-size="6.1" fill="#000" stroke="#000" stroke-width="0.04">ENST00000620103</text>
<text transform="translate(347.01,231) rotate(90) scale(0.86,1)" font-size="6.1" fill="#000" stroke="#000" stroke-width="0.04">ENST00000684649</text>
<text transform="translate(363.97,231) rotate(90) scale(0.86,1)" font-size="6.1" fill="#000" stroke="#000" stroke-width="0.04">ENST00000669642</text>
<defs><linearGradient id="lg" x1="0" y1="1" x2="0" y2="0"><stop offset="0.000" stop-color="#4575b4"/><stop offset="0.050" stop-color="#5c8bc0"/><stop offset="0.100" stop-color="#73a1cb"/><stop offset="0.150" stop-color="#89b8d7"/><stop offset="0.200" stop-color="#a1c9e1"/><stop offset="0.250" stop-color="#b8d9ea"/><stop offset="0.300" stop-color="#d0e9f2"/><stop offset="0.350" stop-color="#e3f4f2"/><stop offset="0.400" stop-color="#ecf8e1"/><stop offset="0.450" stop-color="#f6fbd0"/><stop offset="0.500" stop-color="#ffffbf"/><stop offset="0.550" stop-color="#fff6b1"/><stop offset="0.600" stop-color="#feeca3"/><stop offset="0.650" stop-color="#fee395"/><stop offset="0.700" stop-color="#fecf85"/><stop offset="0.750" stop-color="#fdb674"/><stop offset="0.800" stop-color="#fc9e64"/><stop offset="0.850" stop-color="#f88454"/><stop offset="0.900" stop-color="#ed6845"/><stop offset="0.950" stop-color="#e24c36"/><stop offset="1.000" stop-color="#d73027"/></linearGradient></defs>
<rect x="428.9" y="46.6" width="5.9" height="91.9" fill="url(#lg)"/>
<text transform="translate(437.5,62.57) scale(0.93,1)" font-size="7.9" fill="#151515">0.6</text>
<text transform="translate(437.5,79.28) scale(0.93,1)" font-size="7.9" fill="#151515">0.4</text>
<text transform="translate(437.5,95.99) scale(0.93,1)" font-size="7.9" fill="#151515">0.2</text>
<text transform="translate(437.5,112.69) scale(0.93,1)" font-size="7.9" fill="#151515">0</text>
<text transform="translate(437.5,129.40) scale(0.93,1)" font-size="7.9" fill="#151515">−0.2</text>
<path d="M43.88 46.80V42.30 M60.84 46.80V42.30 M43.88 42.30H60.84 M77.80 46.80V43.50 M94.76 46.80V43.50 M77.80 43.50H94.76 M111.72 46.80V42.50 M128.68 46.80V42.50 M111.72 42.50H128.68 M86.28 43.50V40.40 M120.20 42.50V40.40 M86.28 40.40H120.20 M52.36 42.30V35.70 M103.24 40.40V35.70 M52.36 35.70H103.24 M145.64 46.80V42.00 M162.60 46.80V42.00 M145.64 42.00H162.60 M179.56 46.80V41.90 M196.52 46.80V41.90 M179.56 41.90H196.52 M213.48 46.80V40.40 M230.44 46.80V40.40 M213.48 40.40H230.44 M188.04 41.90V38.40 M221.96 40.40V38.40 M188.04 38.40H221.96 M154.12 42.00V35.30 M205.00 38.40V35.30 M154.12 35.30H205.00 M77.80 35.70V31.40 M179.56 35.30V31.40 M77.80 31.40H179.56 M264.36 46.80V39.10 M281.32 46.80V39.10 M264.36 39.10H281.32 M247.40 46.80V36.90 M272.84 39.10V36.90 M247.40 36.90H272.84 M349.16 46.80V45.00 M366.12 46.80V45.00 M349.16 45.00H366.12 M332.20 46.80V40.10 M357.64 45.00V40.10 M332.20 40.10H357.64 M315.24 46.80V36.20 M344.92 40.10V36.20 M315.24 36.20H344.92 M298.28 46.80V32.10 M330.08 36.20V32.10 M298.28 32.10H330.08 M260.12 36.90V27.00 M314.18 32.10V27.00 M260.12 27.00H314.18 M128.68 31.40V14.30 M287.15 27.00V14.30 M128.68 14.30H287.15 M30.60 60.45H35.40 M30.60 69.55H35.40 M30.60 60.45V69.55 M30.10 78.65H35.40 M30.10 87.75H35.40 M30.10 78.65V87.75 M28.40 65.00H30.60 M28.40 83.20H30.10 M28.40 65.00V83.20 M25.40 96.85H35.40 M25.40 105.95H35.40 M25.40 96.85V105.95 M24.10 74.10H28.40 M24.10 101.40H25.40 M24.10 74.10V101.40 M22.40 51.35H35.40 M22.40 87.75H24.10 M22.40 51.35V87.75 M30.40 115.05H35.40 M30.40 124.15H35.40 M30.40 115.05V124.15 M32.80 142.35H35.40 M32.80 151.45H35.40 M32.80 142.35V151.45 M28.30 133.25H35.40 M28.30 146.90H32.80 M28.30 133.25V146.90 M30.10 169.65H35.40 M30.10 178.75H35.40 M30.10 169.65V178.75 M28.30 160.55H35.40 M28.30 174.20H30.10 M28.30 160.55V174.20 M26.20 140.07H28.30 M26.20 167.38H28.30 M26.20 140.07V167.38 M24.30 119.60H30.40 M24.30 153.72H26.20 M24.30 119.60V153.72 M32.30 215.15H35.40 M32.30 224.25H35.40 M32.30 215.15V224.25 M28.00 206.05H35.40 M28.00 219.70H32.30 M28.00 206.05V219.70 M24.20 196.95H35.40 M24.20 212.88H28.00 M24.20 196.95V212.88 M23.40 187.85H35.40 M23.40 204.91H24.20 M23.40 187.85V204.91 M15.40 136.66H24.30 M15.40 196.38H23.40 M15.40 136.66V196.38 M3.20 69.55H22.40 M3.20 166.52H15.40 M3.20 69.55V166.52" stroke="#333" stroke-width="0.75" fill="none"/>
<text x="0.50" y="14.90" font-size="19.5" text-anchor="start" fill="#000" font-weight="normal" >A</text>
<path d="M569.30 86.00L620.61 127.03A66.5 64.5 0 1 1 616.08 40.15Z" fill="#abb5b9" stroke="#111" stroke-width="1.3" stroke-linejoin="miter"/>
<path d="M573.00 86.00L619.42 40.15A66.0 64.5 0 0 1 623.93 127.03Z" fill="#7fc6e6" stroke="#111" stroke-width="1.3" stroke-linejoin="miter"/>
<rect x="545.3" y="3.2" width="19.7" height="7.7" fill="#7fc6e6" stroke="#333" stroke-width="0.7"/>
<text x="568.00" y="11.20" font-size="12.95" text-anchor="start" fill="#111" font-weight="normal" >p&lt;0.01</text>
<text x="459.80" y="18.10" font-size="19.5" text-anchor="start" fill="#000" font-weight="normal" >B</text>
<text x="511.80" y="168.10" font-size="13.4" text-anchor="start" fill="#111" font-weight="normal" >LncRNA-mRNA pairs</text>
<text x="524.00" y="100.40" font-size="13.6" text-anchor="start" fill="#1a1a1a" font-weight="normal" >76.5%</text>
<text x="595.20" y="87.30" font-size="13.6" text-anchor="start" fill="#1a1a1a" font-weight="normal" >23.5%</text>
<circle cx="536.2" cy="245.6" r="62.8" fill="#9dd3ea" stroke="#222" stroke-width="1"/>
<circle cx="599.2" cy="245.6" r="62.8" fill="#f0a3a6" fill-opacity="0.78" stroke="#222" stroke-width="1"/>
<text x="505.30" y="249.40" font-size="13" text-anchor="middle" fill="#111" font-weight="normal" >95</text>
<text x="571.00" y="249.40" font-size="13" text-anchor="middle" fill="#111" font-weight="normal" >18</text>
<text x="633.10" y="249.40" font-size="13" text-anchor="middle" fill="#111" font-weight="normal" >97</text>
<text x="460.00" y="187.20" font-size="20.2" text-anchor="start" fill="#000" font-weight="normal" >C</text>
<text x="437.40" y="324.20" font-size="13.2" text-anchor="start" fill="#111" font-weight="normal" >RBPs with eclip peaks</text>
<text x="593.00" y="324.20" font-size="13.2" text-anchor="start" fill="#111" font-weight="normal" >SFs collected</text>
<polyline points="65.40,506.84 77.35,506.84 89.30,503.56 101.25,497.19 113.20,494.69 125.15,491.60 137.10,488.90 149.05,470.96 161.00,468.84 172.95,456.49 184.90,454.76 196.85,452.63 208.80,452.06 220.75,438.75 232.70,438.55 244.65,398.24 256.60,389.75 268.55,371.81" fill="none" stroke="#8a8a8a" stroke-width="0.6"/>
<line x1="80.1" y1="493.3" x2="89.4" y2="503.1" stroke="#ff3c3c" stroke-width="0.75"/>
<line x1="102.9" y1="483.6" x2="101.1" y2="497.0" stroke="#ff3c3c" stroke-width="0.75"/>
<line x1="113.0" y1="494.5" x2="120.0" y2="502.6" stroke="#ff3c3c" stroke-width="0.75"/>
<line x1="137.0" y1="488.5" x2="148.0" y2="489.4" stroke="#ff3c3c" stroke-width="0.75"/>
<line x1="198.9" y1="437.8" x2="196.6" y2="452.6" stroke="#ff3c3c" stroke-width="0.75"/>
<line x1="220.6" y1="438.6" x2="228.0" y2="449.2" stroke="#ff3c3c" stroke-width="0.75"/>
<line x1="246.9" y1="378.0" x2="256.6" y2="389.8" stroke="#ff3c3c" stroke-width="0.75"/>
<circle cx="65.40" cy="506.84" r="2.1" fill="#000"/>
<circle cx="77.35" cy="506.84" r="2.1" fill="#000"/>
<circle cx="89.30" cy="503.56" r="2.1" fill="#f00a0a" stroke="#c00" stroke-width="0.4"/>
<circle cx="101.25" cy="497.19" r="2.1" fill="#f00a0a" stroke="#c00" stroke-width="0.4"/>
<circle cx="113.20" cy="494.69" r="2.1" fill="#f00a0a" stroke="#c00" stroke-width="0.4"/>
<circle cx="125.15" cy="491.60" r="2.1" fill="#000"/>
<circle cx="137.10" cy="488.90" r="2.1" fill="#f00a0a" stroke="#c00" stroke-width="0.4"/>
<circle cx="149.05" cy="470.96" r="2.1" fill="#000"/>
<circle cx="161.00" cy="468.84" r="2.1" fill="#000"/>
<circle cx="172.95" cy="456.49" r="2.1" fill="#000"/>
<circle cx="184.90" cy="454.76" r="2.1" fill="#000"/>
<circle cx="196.85" cy="452.63" r="2.1" fill="#f00a0a" stroke="#c00" stroke-width="0.4"/>
<circle cx="208.80" cy="452.06" r="2.1" fill="#000"/>
<circle cx="220.75" cy="438.75" r="2.1" fill="#f00a0a" stroke="#c00" stroke-width="0.4"/>
<circle cx="232.70" cy="438.55" r="2.1" fill="#000"/>
<circle cx="244.65" cy="398.24" r="2.1" fill="#000"/>
<circle cx="256.60" cy="389.75" r="2.1" fill="#f00a0a" stroke="#c00" stroke-width="0.4"/>
<circle cx="268.55" cy="371.81" r="2.1" fill="#000"/>
<path d="M47.4 328.6V521.5H286.8" fill="none" stroke="#333" stroke-width="1"/>
<line x1="44" y1="521.50" x2="47.4" y2="521.50" stroke="#333" stroke-width="1"/>
<text x="42.40" y="523.70" font-size="11.8" text-anchor="end" fill="#222" font-weight="normal" >0</text>
<line x1="44" y1="482.92" x2="47.4" y2="482.92" stroke="#333" stroke-width="1"/>
<text x="42.40" y="487.12" font-size="11.8" text-anchor="end" fill="#222" font-weight="normal" >200</text>
<line x1="44" y1="444.34" x2="47.4" y2="444.34" stroke="#333" stroke-width="1"/>
<text x="42.40" y="448.54" font-size="11.8" text-anchor="end" fill="#222" font-weight="normal" >400</text>
<line x1="44" y1="405.76" x2="47.4" y2="405.76" stroke="#333" stroke-width="1"/>
<text x="42.40" y="409.96" font-size="11.8" text-anchor="end" fill="#222" font-weight="normal" >600</text>
<line x1="44" y1="367.18" x2="47.4" y2="367.18" stroke="#333" stroke-width="1"/>
<text x="42.40" y="371.38" font-size="11.8" text-anchor="end" fill="#222" font-weight="normal" >800</text>
<line x1="44" y1="328.60" x2="47.4" y2="328.60" stroke="#333" stroke-width="1"/>
<text x="42.40" y="332.80" font-size="11.8" text-anchor="end" fill="#222" font-weight="normal" >1000</text>
<text transform="translate(12.8,421.3) rotate(-90)" font-size="13.2" text-anchor="middle" fill="#111">sQTLs within SF binding regions</text>
<text x="157.00" y="535.20" font-size="13.4" text-anchor="middle" fill="#111" font-weight="normal" >SF</text>
<text x="0.00" y="305.40" font-size="19.5" text-anchor="start" fill="#000" font-weight="normal" >D</text>
<text x="63.10" y="492.80" font-size="8.85" text-anchor="start" fill="#1a1a1a" font-weight="normal" >TIA1(93)</text>
<text x="82.90" y="481.10" font-size="8.85" text-anchor="start" fill="#1a1a1a" font-weight="normal" >IGF2BP3(126)</text>
<text x="113.00" y="509.10" font-size="8.85" text-anchor="start" fill="#1a1a1a" font-weight="normal" >QKI(139)</text>
<text x="149.50" y="494.20" font-size="8.85" text-anchor="start" fill="#1a1a1a" font-weight="normal" >ELAVL1(169)</text>
<text x="171.00" y="435.40" font-size="8.85" text-anchor="start" fill="#1a1a1a" font-weight="normal" >SF3B1(357)</text>
<text x="226.00" y="457.00" font-size="8.85" text-anchor="start" fill="#1a1a1a" font-weight="normal" >PCBP1(429)</text>
<text x="212.20" y="376.90" font-size="8.85" text-anchor="start" fill="#1a1a1a" font-weight="normal" >U2AF1(683)</text>
<line x1="380" y1="412.2" x2="464" y2="412.2" stroke="#222" stroke-width="1"/>
<line x1="532" y1="412.2" x2="616" y2="412.2" stroke="#222" stroke-width="1"/>
<circle cx="346" cy="412.2" r="35" fill="#7ec4e3" stroke="#222" stroke-width="1"/>
<circle cx="498" cy="411.9" r="35" fill="#f0a5a8" stroke="#222" stroke-width="1"/>
<circle cx="649.6" cy="412.3" r="34.6" fill="#88bf88" stroke="#222" stroke-width="1"/>
<text x="345.00" y="408.60" font-size="11.8" text-anchor="middle" fill="#111" font-weight="normal" >399</text>
<text x="346.30" y="422.90" font-size="11.4" text-anchor="middle" fill="#111" font-weight="normal" >LncRNAs</text>
<text x="498.00" y="408.80" font-size="11.8" text-anchor="middle" fill="#111" font-weight="normal" >18</text>
<text x="498.00" y="423.10" font-size="11.4" text-anchor="middle" fill="#111" font-weight="normal" >SFs</text>
<text x="651.50" y="412.00" font-size="11.8" text-anchor="middle" fill="#111" font-weight="normal" >255</text>
<text x="651.50" y="426.20" font-size="11.4" text-anchor="middle" fill="#111" font-weight="normal" >mRNAs</text>
<text x="424.80" y="404.90" font-size="10" text-anchor="middle" fill="#111" font-weight="normal" >sQTLs</text>
<text x="423.50" y="425.90" font-size="10" text-anchor="middle" fill="#111" font-weight="normal" >score &gt; 0.5</text>
<text x="575.20" y="426.10" font-size="10" text-anchor="middle" fill="#111" font-weight="normal" >score &gt; 0.5</text>
<text x="301.50" y="344.50" font-size="19.5" text-anchor="start" fill="#000" font-weight="normal" >E</text>
<path d="M139.40 652.00L187.43 699.01A67.8 66.6 0 1 1 177.61 596.98Z" fill="#abb5b9" stroke="#111" stroke-width="1.3" stroke-linejoin="miter"/>
<path d="M143.50 652.00L180.41 597.23A65.5 66.3 0 0 1 189.90 698.80Z" fill="#f0a5a8" stroke="#111" stroke-width="1.3" stroke-linejoin="miter"/>
<rect x="66.5" y="572.3" width="19.2" height="7.5" fill="#f0a5a8" stroke="#333" stroke-width="0.7"/>
<text x="89.00" y="579.50" font-size="13.3" text-anchor="start" fill="#111" font-weight="normal" >expression-correlated</text>
<text x="85.70" y="660.60" font-size="12.8" text-anchor="start" fill="#111" font-weight="normal" >72.3%</text>
<text x="160.00" y="655.20" font-size="12.8" text-anchor="start" fill="#111" font-weight="normal" >27.7%</text>
<text x="52.70" y="739.70" font-size="13.3" text-anchor="start" fill="#111" font-weight="normal" >LncRNA-mRNA pairs of triplets</text>
<text x="18.50" y="573.90" font-size="19.5" text-anchor="start" fill="#000" font-weight="normal" >G</text>
<text x="307.10" y="510.80" font-size="19.5" text-anchor="start" fill="#000" font-weight="normal" >F</text>
<text x="436.20" y="517.50" font-size="10.05" text-anchor="start" fill="#111" font-weight="bold" >LncRNA-SF-mRNA</text>
<path d="M452.9 607.51C528.4 607.51 528.4 520.67 603.9 520.67" fill="none" stroke="#9c5db6" stroke-opacity="0.2" stroke-width="1.30"/>
<path d="M452.9 665.04C528.4 665.04 528.4 523.73 603.9 523.73" fill="none" stroke="#a9885a" stroke-opacity="0.2" stroke-width="1.27"/>
<path d="M452.9 639.45C528.4 639.45 528.4 522.20 603.9 522.20" fill="none" stroke="#6f905b" stroke-opacity="0.2" stroke-width="1.30"/>
<path d="M452.9 666.31C528.4 666.31 528.4 532.68 603.9 532.68" fill="none" stroke="#a9885a" stroke-opacity="0.2" stroke-width="1.27"/>
<path d="M452.9 640.95C528.4 640.95 528.4 531.25 603.9 531.25" fill="none" stroke="#6f905b" stroke-opacity="0.2" stroke-width="1.30"/>
<path d="M452.9 579.04C528.4 579.04 528.4 529.82 603.9 529.82" fill="none" stroke="#ee7c5b" stroke-opacity="0.2" stroke-width="1.30"/>
<path d="M452.9 580.53C528.4 580.53 528.4 538.48 603.9 538.48" fill="none" stroke="#ee7c5b" stroke-opacity="0.2" stroke-width="1.30"/>
<path d="M452.9 727.02C528.4 727.02 528.4 542.56 603.9 542.56" fill="none" stroke="#58b0ab" stroke-opacity="0.2" stroke-width="1.30"/>
<path d="M452.9 608.94C528.4 608.94 528.4 539.84 603.9 539.84" fill="none" stroke="#9c5db6" stroke-opacity="0.2" stroke-width="1.30"/>
<path d="M452.9 642.45C528.4 642.45 528.4 541.20 603.9 541.20" fill="none" stroke="#6f905b" stroke-opacity="0.2" stroke-width="1.30"/>
<path d="M452.9 748.90C528.4 748.90 528.4 543.92 603.9 543.92" fill="none" stroke="#cc7379" stroke-opacity="0.2" stroke-width="1.01"/>
<path d="M452.9 643.95C528.4 643.95 528.4 551.26 603.9 551.26" fill="none" stroke="#6f905b" stroke-opacity="0.2" stroke-width="1.30"/>
<path d="M452.9 691.96C528.4 691.96 528.4 554.01 603.9 554.01" fill="none" stroke="#e66ccf" stroke-opacity="0.2" stroke-width="1.30"/>
<path d="M452.9 610.37C528.4 610.37 528.4 549.89 603.9 549.89" fill="none" stroke="#9c5db6" stroke-opacity="0.2" stroke-width="1.30"/>
<path d="M452.9 667.58C528.4 667.58 528.4 552.64 603.9 552.64" fill="none" stroke="#a9885a" stroke-opacity="0.2" stroke-width="1.27"/>
<path d="M452.9 582.02C528.4 582.02 528.4 559.58 603.9 559.58" fill="none" stroke="#ee7c5b" stroke-opacity="0.2" stroke-width="1.30"/>
<path d="M452.9 693.48C528.4 693.48 528.4 565.05 603.9 565.05" fill="none" stroke="#e66ccf" stroke-opacity="0.2" stroke-width="1.30"/>
<path d="M452.9 728.47C528.4 728.47 528.4 566.42 603.9 566.42" fill="none" stroke="#58b0ab" stroke-opacity="0.2" stroke-width="1.30"/>
<path d="M452.9 645.45C528.4 645.45 528.4 562.32 603.9 562.32" fill="none" stroke="#6f905b" stroke-opacity="0.2" stroke-width="1.30"/>
<path d="M452.9 668.85C528.4 668.85 528.4 563.68 603.9 563.68" fill="none" stroke="#a9885a" stroke-opacity="0.2" stroke-width="1.27"/>
<path d="M452.9 611.79C528.4 611.79 528.4 560.95 603.9 560.95" fill="none" stroke="#9c5db6" stroke-opacity="0.2" stroke-width="1.30"/>
<path d="M452.9 583.51C528.4 583.51 528.4 572.40 603.9 572.40" fill="none" stroke="#ee7c5b" stroke-opacity="0.2" stroke-width="1.30"/>
<path d="M452.9 695.00C528.4 695.00 528.4 576.60 603.9 576.60" fill="none" stroke="#e66ccf" stroke-opacity="0.2" stroke-width="1.30"/>
<path d="M452.9 670.12C528.4 670.12 528.4 575.20 603.9 575.20" fill="none" stroke="#a9885a" stroke-opacity="0.2" stroke-width="1.27"/>
<path d="M452.9 613.22C528.4 613.22 528.4 573.80 603.9 573.80" fill="none" stroke="#9c5db6" stroke-opacity="0.2" stroke-width="1.30"/>
<path d="M452.9 584.99C528.4 584.99 528.4 582.71 603.9 582.71" fill="none" stroke="#ee7c5b" stroke-opacity="0.2" stroke-width="1.30"/>
<path d="M452.9 729.92C528.4 729.92 528.4 587.59 603.9 587.59" fill="none" stroke="#58b0ab" stroke-opacity="0.2" stroke-width="1.30"/>
<path d="M452.9 646.95C528.4 646.95 528.4 584.34 603.9 584.34" fill="none" stroke="#6f905b" stroke-opacity="0.2" stroke-width="1.30"/>
<path d="M452.9 696.52C528.4 696.52 528.4 585.96 603.9 585.96" fill="none" stroke="#e66ccf" stroke-opacity="0.2" stroke-width="1.30"/>
<path d="M452.9 731.38C528.4 731.38 528.4 600.54 603.9 600.54" fill="none" stroke="#58b0ab" stroke-opacity="0.2" stroke-width="1.30"/>
<path d="M452.9 698.04C528.4 698.04 528.4 597.80 603.9 597.80" fill="none" stroke="#e66ccf" stroke-opacity="0.2" stroke-width="1.30"/>
<path d="M452.9 749.91C528.4 749.91 528.4 601.91 603.9 601.91" fill="none" stroke="#cc7379" stroke-opacity="0.2" stroke-width="1.01"/>
<path d="M452.9 614.64C528.4 614.64 528.4 595.06 603.9 595.06" fill="none" stroke="#9c5db6" stroke-opacity="0.2" stroke-width="1.30"/>
<path d="M452.9 671.39C528.4 671.39 528.4 596.43 603.9 596.43" fill="none" stroke="#a9885a" stroke-opacity="0.2" stroke-width="1.27"/>
<path d="M452.9 586.48C528.4 586.48 528.4 593.69 603.9 593.69" fill="none" stroke="#ee7c5b" stroke-opacity="0.2" stroke-width="1.30"/>
<path d="M452.9 699.56C528.4 699.56 528.4 599.17 603.9 599.17" fill="none" stroke="#e66ccf" stroke-opacity="0.2" stroke-width="1.30"/>
<path d="M452.9 732.83C528.4 732.83 528.4 613.48 603.9 613.48" fill="none" stroke="#58b0ab" stroke-opacity="0.2" stroke-width="1.30"/>
<path d="M452.9 587.97C528.4 587.97 528.4 607.54 603.9 607.54" fill="none" stroke="#ee7c5b" stroke-opacity="0.2" stroke-width="1.30"/>
<path d="M452.9 616.07C528.4 616.07 528.4 609.02 603.9 609.02" fill="none" stroke="#9c5db6" stroke-opacity="0.2" stroke-width="1.30"/>
<path d="M452.9 648.45C528.4 648.45 528.4 610.51 603.9 610.51" fill="none" stroke="#6f905b" stroke-opacity="0.2" stroke-width="1.30"/>
<path d="M452.9 750.92C528.4 750.92 528.4 614.96 603.9 614.96" fill="none" stroke="#cc7379" stroke-opacity="0.2" stroke-width="1.01"/>
<path d="M452.9 672.66C528.4 672.66 528.4 611.99 603.9 611.99" fill="none" stroke="#a9885a" stroke-opacity="0.2" stroke-width="1.27"/>
<path d="M452.9 701.08C528.4 701.08 528.4 626.15 603.9 626.15" fill="none" stroke="#e66ccf" stroke-opacity="0.2" stroke-width="1.30"/>
<path d="M452.9 617.50C528.4 617.50 528.4 621.98 603.9 621.98" fill="none" stroke="#9c5db6" stroke-opacity="0.2" stroke-width="1.30"/>
<path d="M452.9 673.93C528.4 673.93 528.4 624.76 603.9 624.76" fill="none" stroke="#a9885a" stroke-opacity="0.2" stroke-width="1.27"/>
<path d="M452.9 649.95C528.4 649.95 528.4 623.37 603.9 623.37" fill="none" stroke="#6f905b" stroke-opacity="0.2" stroke-width="1.30"/>
<path d="M452.9 589.46C528.4 589.46 528.4 620.59 603.9 620.59" fill="none" stroke="#ee7c5b" stroke-opacity="0.2" stroke-width="1.30"/>
<path d="M452.9 734.27C528.4 734.27 528.4 628.93 603.9 628.93" fill="none" stroke="#58b0ab" stroke-opacity="0.2" stroke-width="1.30"/>
<path d="M452.9 751.93C528.4 751.93 528.4 631.71 603.9 631.71" fill="none" stroke="#cc7379" stroke-opacity="0.2" stroke-width="1.01"/>
<path d="M452.9 735.73C528.4 735.73 528.4 630.32 603.9 630.32" fill="none" stroke="#58b0ab" stroke-opacity="0.2" stroke-width="1.30"/>
<path d="M452.9 702.60C528.4 702.60 528.4 627.54 603.9 627.54" fill="none" stroke="#e66ccf" stroke-opacity="0.2" stroke-width="1.30"/>
<path d="M452.9 752.93C528.4 752.93 528.4 644.57 603.9 644.57" fill="none" stroke="#cc7379" stroke-opacity="0.2" stroke-width="1.01"/>
<path d="M452.9 704.12C528.4 704.12 528.4 641.67 603.9 641.67" fill="none" stroke="#e66ccf" stroke-opacity="0.2" stroke-width="1.30"/>
<path d="M452.9 737.17C528.4 737.17 528.4 643.12 603.9 643.12" fill="none" stroke="#58b0ab" stroke-opacity="0.2" stroke-width="1.30"/>
<path d="M452.9 651.45C528.4 651.45 528.4 638.77 603.9 638.77" fill="none" stroke="#6f905b" stroke-opacity="0.2" stroke-width="1.30"/>
<path d="M452.9 590.94C528.4 590.94 528.4 637.33 603.9 637.33" fill="none" stroke="#ee7c5b" stroke-opacity="0.2" stroke-width="1.30"/>
<path d="M452.9 675.20C528.4 675.20 528.4 640.23 603.9 640.23" fill="none" stroke="#a9885a" stroke-opacity="0.2" stroke-width="1.27"/>
<path d="M452.9 753.94C528.4 753.94 528.4 655.53 603.9 655.53" fill="none" stroke="#cc7379" stroke-opacity="0.2" stroke-width="1.01"/>
<path d="M452.9 705.64C528.4 705.64 528.4 654.19 603.9 654.19" fill="none" stroke="#e66ccf" stroke-opacity="0.2" stroke-width="1.30"/>
<path d="M452.9 652.95C528.4 652.95 528.4 651.51 603.9 651.51" fill="none" stroke="#6f905b" stroke-opacity="0.2" stroke-width="1.30"/>
<path d="M452.9 676.47C528.4 676.47 528.4 652.85 603.9 652.85" fill="none" stroke="#a9885a" stroke-opacity="0.2" stroke-width="1.27"/>
<path d="M452.9 592.43C528.4 592.43 528.4 650.17 603.9 650.17" fill="none" stroke="#ee7c5b" stroke-opacity="0.2" stroke-width="1.30"/>
<path d="M452.9 707.16C528.4 707.16 528.4 665.28 603.9 665.28" fill="none" stroke="#e66ccf" stroke-opacity="0.2" stroke-width="1.30"/>
<path d="M452.9 654.45C528.4 654.45 528.4 663.92 603.9 663.92" fill="none" stroke="#6f905b" stroke-opacity="0.2" stroke-width="1.30"/>
<path d="M452.9 618.92C528.4 618.92 528.4 662.55 603.9 662.55" fill="none" stroke="#9c5db6" stroke-opacity="0.2" stroke-width="1.30"/>
<path d="M452.9 593.92C528.4 593.92 528.4 661.18 603.9 661.18" fill="none" stroke="#ee7c5b" stroke-opacity="0.2" stroke-width="1.30"/>
<path d="M452.9 754.95C528.4 754.95 528.4 666.65 603.9 666.65" fill="none" stroke="#cc7379" stroke-opacity="0.2" stroke-width="1.01"/>
<path d="M452.9 755.96C528.4 755.96 528.4 668.02 603.9 668.02" fill="none" stroke="#cc7379" stroke-opacity="0.2" stroke-width="1.01"/>
<path d="M452.9 595.41C528.4 595.41 528.4 674.37 603.9 674.37" fill="none" stroke="#ee7c5b" stroke-opacity="0.2" stroke-width="1.30"/>
<path d="M452.9 708.68C528.4 708.68 528.4 680.54 603.9 680.54" fill="none" stroke="#e66ccf" stroke-opacity="0.2" stroke-width="1.30"/>
<path d="M452.9 655.95C528.4 655.95 528.4 677.46 603.9 677.46" fill="none" stroke="#6f905b" stroke-opacity="0.2" stroke-width="1.30"/>
<path d="M452.9 620.35C528.4 620.35 528.4 675.91 603.9 675.91" fill="none" stroke="#9c5db6" stroke-opacity="0.2" stroke-width="1.30"/>
<path d="M452.9 677.74C528.4 677.74 528.4 679.00 603.9 679.00" fill="none" stroke="#a9885a" stroke-opacity="0.2" stroke-width="1.27"/>
<path d="M452.9 738.62C528.4 738.62 528.4 682.09 603.9 682.09" fill="none" stroke="#58b0ab" stroke-opacity="0.2" stroke-width="1.30"/>
<path d="M452.9 756.97C528.4 756.97 528.4 683.63 603.9 683.63" fill="none" stroke="#cc7379" stroke-opacity="0.2" stroke-width="1.01"/>
<path d="M452.9 596.89C528.4 596.89 528.4 689.61 603.9 689.61" fill="none" stroke="#ee7c5b" stroke-opacity="0.2" stroke-width="1.30"/>
<path d="M452.9 710.20C528.4 710.20 528.4 693.90 603.9 693.90" fill="none" stroke="#e66ccf" stroke-opacity="0.2" stroke-width="1.30"/>
<path d="M452.9 621.78C528.4 621.78 528.4 691.04 603.9 691.04" fill="none" stroke="#9c5db6" stroke-opacity="0.2" stroke-width="1.30"/>
<path d="M452.9 740.08C528.4 740.08 528.4 696.76 603.9 696.76" fill="none" stroke="#58b0ab" stroke-opacity="0.2" stroke-width="1.30"/>
<path d="M452.9 679.01C528.4 679.01 528.4 692.47 603.9 692.47" fill="none" stroke="#a9885a" stroke-opacity="0.2" stroke-width="1.27"/>
<path d="M452.9 711.72C528.4 711.72 528.4 695.33 603.9 695.33" fill="none" stroke="#e66ccf" stroke-opacity="0.2" stroke-width="1.30"/>
<path d="M452.9 741.53C528.4 741.53 528.4 698.19 603.9 698.19" fill="none" stroke="#58b0ab" stroke-opacity="0.2" stroke-width="1.30"/>
<path d="M452.9 680.28C528.4 680.28 528.4 710.09 603.9 710.09" fill="none" stroke="#a9885a" stroke-opacity="0.2" stroke-width="1.27"/>
<path d="M452.9 757.97C528.4 757.97 528.4 712.98 603.9 712.98" fill="none" stroke="#cc7379" stroke-opacity="0.2" stroke-width="1.01"/>
<path d="M452.9 623.20C528.4 623.20 528.4 705.76 603.9 705.76" fill="none" stroke="#9c5db6" stroke-opacity="0.2" stroke-width="1.30"/>
<path d="M452.9 598.38C528.4 598.38 528.4 704.32 603.9 704.32" fill="none" stroke="#ee7c5b" stroke-opacity="0.2" stroke-width="1.30"/>
<path d="M452.9 713.24C528.4 713.24 528.4 711.54 603.9 711.54" fill="none" stroke="#e66ccf" stroke-opacity="0.2" stroke-width="1.30"/>
<path d="M452.9 624.63C528.4 624.63 528.4 707.21 603.9 707.21" fill="none" stroke="#9c5db6" stroke-opacity="0.2" stroke-width="1.30"/>
<path d="M452.9 657.45C528.4 657.45 528.4 708.65 603.9 708.65" fill="none" stroke="#6f905b" stroke-opacity="0.2" stroke-width="1.30"/>
<path d="M452.9 681.55C528.4 681.55 528.4 722.80 603.9 722.80" fill="none" stroke="#a9885a" stroke-opacity="0.2" stroke-width="1.27"/>
<path d="M452.9 714.76C528.4 714.76 528.4 724.17 603.9 724.17" fill="none" stroke="#e66ccf" stroke-opacity="0.2" stroke-width="1.30"/>
<path d="M452.9 626.06C528.4 626.06 528.4 720.06 603.9 720.06" fill="none" stroke="#9c5db6" stroke-opacity="0.2" stroke-width="1.30"/>
<path d="M452.9 599.87C528.4 599.87 528.4 718.69 603.9 718.69" fill="none" stroke="#ee7c5b" stroke-opacity="0.2" stroke-width="1.30"/>
<path d="M452.9 742.98C528.4 742.98 528.4 725.54 603.9 725.54" fill="none" stroke="#58b0ab" stroke-opacity="0.2" stroke-width="1.30"/>
<path d="M452.9 658.95C528.4 658.95 528.4 721.43 603.9 721.43" fill="none" stroke="#6f905b" stroke-opacity="0.2" stroke-width="1.30"/>
<path d="M452.9 758.98C528.4 758.98 528.4 726.91 603.9 726.91" fill="none" stroke="#cc7379" stroke-opacity="0.2" stroke-width="1.01"/>
<path d="M452.9 716.28C528.4 716.28 528.4 737.07 603.9 737.07" fill="none" stroke="#e66ccf" stroke-opacity="0.2" stroke-width="1.30"/>
<path d="M452.9 627.48C528.4 627.48 528.4 732.73 603.9 732.73" fill="none" stroke="#9c5db6" stroke-opacity="0.2" stroke-width="1.30"/>
<path d="M452.9 682.82C528.4 682.82 528.4 735.62 603.9 735.62" fill="none" stroke="#a9885a" stroke-opacity="0.2" stroke-width="1.27"/>
<path d="M452.9 628.91C528.4 628.91 528.4 734.17 603.9 734.17" fill="none" stroke="#9c5db6" stroke-opacity="0.2" stroke-width="1.30"/>
<path d="M452.9 717.80C528.4 717.80 528.4 748.22 603.9 748.22" fill="none" stroke="#e66ccf" stroke-opacity="0.2" stroke-width="1.30"/>
<path d="M452.9 630.33C528.4 630.33 528.4 744.08 603.9 744.08" fill="none" stroke="#9c5db6" stroke-opacity="0.2" stroke-width="1.30"/>
<path d="M452.9 631.76C528.4 631.76 528.4 745.46 603.9 745.46" fill="none" stroke="#9c5db6" stroke-opacity="0.2" stroke-width="1.30"/>
<path d="M452.9 684.09C528.4 684.09 528.4 746.84 603.9 746.84" fill="none" stroke="#a9885a" stroke-opacity="0.2" stroke-width="1.27"/>
<path d="M452.9 759.99C528.4 759.99 528.4 749.61 603.9 749.61" fill="none" stroke="#cc7379" stroke-opacity="0.2" stroke-width="1.01"/>
<path d="M452.9 601.36C528.4 601.36 528.4 742.69 603.9 742.69" fill="none" stroke="#ee7c5b" stroke-opacity="0.2" stroke-width="1.30"/>
<path d="M452.9 719.32C528.4 719.32 528.4 758.15 603.9 758.15" fill="none" stroke="#e66ccf" stroke-opacity="0.2" stroke-width="1.30"/>
<path d="M452.9 720.84C528.4 720.84 528.4 759.53 603.9 759.53" fill="none" stroke="#e66ccf" stroke-opacity="0.2" stroke-width="1.30"/>
<path d="M452.9 633.19C528.4 633.19 528.4 755.39 603.9 755.39" fill="none" stroke="#9c5db6" stroke-opacity="0.2" stroke-width="1.30"/>
<path d="M452.9 685.36C528.4 685.36 528.4 756.77 603.9 756.77" fill="none" stroke="#a9885a" stroke-opacity="0.2" stroke-width="1.27"/>
<path d="M452.9 761.00C528.4 761.00 528.4 760.91 603.9 760.91" fill="none" stroke="#cc7379" stroke-opacity="0.2" stroke-width="1.01"/>
<path d="M291.0 613.80C366.4 613.80 366.4 578.75 441.8 578.75" fill="none" stroke="#5b7bd5" stroke-opacity="0.27" stroke-width="0.9"/>
<path d="M291.0 619.60C366.4 619.60 366.4 579.65 441.8 579.65" fill="none" stroke="#5b7bd5" stroke-opacity="0.27" stroke-width="0.9"/>
<path d="M291.0 625.35C366.4 625.35 366.4 580.55 441.8 580.55" fill="none" stroke="#5b7bd5" stroke-opacity="0.27" stroke-width="0.9"/>
<path d="M291.0 630.85C366.4 630.85 366.4 581.45 441.8 581.45" fill="none" stroke="#5b7bd5" stroke-opacity="0.27" stroke-width="0.9"/>
<path d="M291.0 637.32C366.4 637.32 366.4 582.35 441.8 582.35" fill="none" stroke="#5a8fa8" stroke-opacity="0.27" stroke-width="0.9"/>
<path d="M291.0 643.85C366.4 643.85 366.4 583.25 441.8 583.25" fill="none" stroke="#5b7bd5" stroke-opacity="0.27" stroke-width="0.9"/>
<path d="M291.0 649.65C366.4 649.65 366.4 584.15 441.8 584.15" fill="none" stroke="#6f8fd8" stroke-opacity="0.27" stroke-width="0.9"/>
<path d="M291.0 625.85C366.4 625.85 366.4 607.25 441.8 607.25" fill="none" stroke="#5b7bd5" stroke-opacity="0.27" stroke-width="0.9"/>
<path d="M291.0 631.35C366.4 631.35 366.4 608.15 441.8 608.15" fill="none" stroke="#5b7bd5" stroke-opacity="0.27" stroke-width="0.9"/>
<path d="M291.0 638.27C366.4 638.27 366.4 609.05 441.8 609.05" fill="none" stroke="#5a8fa8" stroke-opacity="0.27" stroke-width="0.9"/>
<path d="M291.0 644.35C366.4 644.35 366.4 609.95 441.8 609.95" fill="none" stroke="#5b7bd5" stroke-opacity="0.27" stroke-width="0.9"/>
<path d="M291.0 650.15C366.4 650.15 366.4 610.85 441.8 610.85" fill="none" stroke="#6f8fd8" stroke-opacity="0.27" stroke-width="0.9"/>
<path d="M291.0 655.87C366.4 655.87 366.4 611.75 441.8 611.75" fill="none" stroke="#a6c96a" stroke-opacity="0.27" stroke-width="0.9"/>
<path d="M291.0 674.75C366.4 674.75 366.4 612.65 441.8 612.65" fill="none" stroke="#e3c35a" stroke-opacity="0.27" stroke-width="0.9"/>
<path d="M291.0 657.70C366.4 657.70 366.4 639.20 441.8 639.20" fill="none" stroke="#a6c96a" stroke-opacity="0.27" stroke-width="1.0"/>
<path d="M291.0 675.85C366.4 675.85 366.4 640.20 441.8 640.20" fill="none" stroke="#e3c35a" stroke-opacity="0.27" stroke-width="1.0"/>
<path d="M291.0 667.20C366.4 667.20 366.4 665.10 441.8 665.10" fill="none" stroke="#6aa392" stroke-opacity="0.2" stroke-width="1.4"/>
<path d="M291.0 676.95C366.4 676.95 366.4 666.30 441.8 666.30" fill="none" stroke="#e3c35a" stroke-opacity="0.27" stroke-width="1.0"/>
<path d="M291.0 659.53C366.4 659.53 366.4 691.70 441.8 691.70" fill="none" stroke="#a6c96a" stroke-opacity="0.27" stroke-width="1.0"/>
<path d="M291.0 678.05C366.4 678.05 366.4 692.70 441.8 692.70" fill="none" stroke="#e3c35a" stroke-opacity="0.27" stroke-width="1.0"/>
<path d="M291.0 686.60C366.4 686.60 366.4 694.20 441.8 694.20" fill="none" stroke="#5173cf" stroke-opacity="0.2" stroke-width="2.0"/>
<path d="M291.0 693.20C366.4 693.20 366.4 696.20 441.8 696.20" fill="none" stroke="#5173cf" stroke-opacity="0.2" stroke-width="2.0"/>
<path d="M291.0 699.50C366.4 699.50 366.4 698.20 441.8 698.20" fill="none" stroke="#5173cf" stroke-opacity="0.2" stroke-width="2.0"/>
<path d="M291.0 679.15C366.4 679.15 366.4 726.80 441.8 726.80" fill="none" stroke="#e3c35a" stroke-opacity="0.27" stroke-width="1.0"/>
<path d="M291.0 705.90C366.4 705.90 366.4 749.40 441.8 749.40" fill="none" stroke="#5173cf" stroke-opacity="0.2" stroke-width="2.0"/>
<path d="M291.0 680.25C366.4 680.25 366.4 750.90 441.8 750.90" fill="none" stroke="#e3c35a" stroke-opacity="0.27" stroke-width="1.0"/>
<rect x="441.8" y="578.3" width="11.1" height="23.8" fill="#ee7c5b"/>
<text transform="translate(455.8,592.70) scale(0.8,1)" font-size="8.3" fill="#1e1e1e" stroke="#1e1e1e" stroke-width="0.1">SF3B1</text>
<rect x="441.8" y="606.8" width="11.1" height="27.1" fill="#9c5db6"/>
<text transform="translate(455.8,622.85) scale(0.8,1)" font-size="8.3" fill="#1e1e1e" stroke="#1e1e1e" stroke-width="0.1">U2AF1</text>
<rect x="441.8" y="638.7" width="11.1" height="21.0" fill="#6f905b"/>
<text transform="translate(455.8,651.70) scale(0.8,1)" font-size="8.3" fill="#1e1e1e" stroke="#1e1e1e" stroke-width="0.1">ELAVL1</text>
<rect x="441.8" y="664.4" width="11.1" height="21.6" fill="#a9885a"/>
<text transform="translate(455.8,677.70) scale(0.8,1)" font-size="8.3" fill="#1e1e1e" stroke="#1e1e1e" stroke-width="0.1">QKI</text>
<rect x="441.8" y="691.2" width="11.1" height="30.4" fill="#e66ccf"/>
<text transform="translate(455.8,708.90) scale(0.8,1)" font-size="8.3" fill="#1e1e1e" stroke="#1e1e1e" stroke-width="0.1">PCBP1</text>
<rect x="441.8" y="726.3" width="11.1" height="17.4" fill="#58b0ab"/>
<text transform="translate(455.8,737.50) scale(0.8,1)" font-size="8.3" fill="#1e1e1e" stroke="#1e1e1e" stroke-width="0.1">TIA1</text>
<rect x="441.8" y="748.4" width="11.1" height="13.1" fill="#cc7379"/>
<text transform="translate(455.8,757.45) scale(0.8,1)" font-size="8.3" fill="#1e1e1e" stroke="#1e1e1e" stroke-width="0.1">IGF2BP3</text>
<rect x="603.9" y="519.9" width="11.0" height="4.6" fill="#78b478"/>
<text transform="translate(617.8,524.50) scale(0.82,1)" font-size="8.2" fill="#1e1e1e" stroke="#1e1e1e" stroke-width="0.1">ENST00000392221</text>
<rect x="603.9" y="529.1" width="11.0" height="4.3" fill="#78b478"/>
<text transform="translate(617.8,533.55) scale(0.82,1)" font-size="8.2" fill="#1e1e1e" stroke="#1e1e1e" stroke-width="0.1">ENST00000263864</text>
<rect x="603.9" y="537.8" width="11.0" height="6.8" fill="#c8c35a"/>
<text transform="translate(617.8,543.50) scale(0.82,1)" font-size="8.2" fill="#1e1e1e" stroke="#1e1e1e" stroke-width="0.1">ENST00000531743</text>
<rect x="603.9" y="549.2" width="11.0" height="5.5" fill="#8ccd78"/>
<text transform="translate(617.8,554.25) scale(0.82,1)" font-size="8.2" fill="#1e1e1e" stroke="#1e1e1e" stroke-width="0.1">ENST00000375661</text>
<rect x="603.9" y="558.9" width="11.0" height="8.2" fill="#e6c35a"/>
<text transform="translate(617.8,565.30) scale(0.82,1)" font-size="8.2" fill="#1e1e1e" stroke="#1e1e1e" stroke-width="0.1">ENST00000322723</text>
<rect x="603.9" y="571.7" width="11.0" height="5.6" fill="#96c86e"/>
<text transform="translate(617.8,576.80) scale(0.82,1)" font-size="8.2" fill="#1e1e1e" stroke="#1e1e1e" stroke-width="0.1">ENST00000375549</text>
<rect x="603.9" y="581.9" width="11.0" height="6.5" fill="#b4c864"/>
<text transform="translate(617.8,587.45) scale(0.82,1)" font-size="8.2" fill="#1e1e1e" stroke="#1e1e1e" stroke-width="0.1">ENST00000340385</text>
<rect x="603.9" y="593.0" width="11.0" height="9.6" fill="#f5aa5a"/>
<text transform="translate(617.8,600.10) scale(0.82,1)" font-size="8.2" fill="#1e1e1e" stroke="#1e1e1e" stroke-width="0.1">ENST00000368533</text>
<rect x="603.9" y="606.8" width="11.0" height="8.9" fill="#f5c85a"/>
<text transform="translate(617.8,613.55) scale(0.82,1)" font-size="8.2" fill="#1e1e1e" stroke="#1e1e1e" stroke-width="0.1">ENST00000216281</text>
<rect x="603.9" y="619.9" width="11.0" height="12.5" fill="#eb6464"/>
<text transform="translate(617.8,628.45) scale(0.82,1)" font-size="8.2" fill="#1e1e1e" stroke="#1e1e1e" stroke-width="0.1">ENST00000318602</text>
<rect x="603.9" y="636.6" width="11.0" height="8.7" fill="#f0c85a"/>
<text transform="translate(617.8,643.25) scale(0.82,1)" font-size="8.2" fill="#1e1e1e" stroke="#1e1e1e" stroke-width="0.1">ENST00000230895</text>
<rect x="603.9" y="649.5" width="11.0" height="6.7" fill="#afc364"/>
<text transform="translate(617.8,655.15) scale(0.82,1)" font-size="8.2" fill="#1e1e1e" stroke="#1e1e1e" stroke-width="0.1">ENST00000254322</text>
<rect x="603.9" y="660.5" width="11.0" height="8.2" fill="#f0c85a"/>
<text transform="translate(617.8,666.90) scale(0.82,1)" font-size="8.2" fill="#1e1e1e" stroke="#1e1e1e" stroke-width="0.1">ENST00000389805</text>
<rect x="603.9" y="673.6" width="11.0" height="10.8" fill="#f08c5a"/>
<text transform="translate(617.8,681.30) scale(0.82,1)" font-size="8.2" fill="#1e1e1e" stroke="#1e1e1e" stroke-width="0.1">ENST00000310118</text>
<rect x="603.9" y="688.9" width="11.0" height="10.0" fill="#f5a05a"/>
<text transform="translate(617.8,696.20) scale(0.82,1)" font-size="8.2" fill="#1e1e1e" stroke="#1e1e1e" stroke-width="0.1">ENST00000264995</text>
<rect x="603.9" y="703.6" width="11.0" height="10.1" fill="#f5965a"/>
<text transform="translate(617.8,710.95) scale(0.82,1)" font-size="8.2" fill="#1e1e1e" stroke="#1e1e1e" stroke-width="0.1">ENST00000505490</text>
<rect x="603.9" y="718.0" width="11.0" height="9.6" fill="#f5aa5a"/>
<text transform="translate(617.8,725.10) scale(0.82,1)" font-size="8.2" fill="#1e1e1e" stroke="#1e1e1e" stroke-width="0.1">ENST00000575842</text>
<rect x="603.9" y="732.0" width="11.0" height="5.8" fill="#82c864"/>
<text transform="translate(617.8,737.20) scale(0.82,1)" font-size="8.2" fill="#1e1e1e" stroke="#1e1e1e" stroke-width="0.1">ENST00000647248</text>
<rect x="603.9" y="742.0" width="11.0" height="8.3" fill="#f5c85a"/>
<text transform="translate(617.8,748.45) scale(0.82,1)" font-size="8.2" fill="#1e1e1e" stroke="#1e1e1e" stroke-width="0.1">ENST00000311481</text>
<rect x="603.9" y="754.7" width="11.0" height="6.9" fill="#aac364"/>
<text transform="translate(617.8,760.45) scale(0.82,1)" font-size="8.2" fill="#1e1e1e" stroke="#1e1e1e" stroke-width="0.1">ENST00000317508</text>
<rect x="279.8" y="613.30" width="11.2" height="1.0" fill="#5b7bd5"/>
<text transform="translate(293.7,616.40) scale(0.82,1)" font-size="8.2" fill="#1e1e1e" stroke="#1e1e1e" stroke-width="0.1">ENST00000580623</text>
<rect x="279.8" y="619.10" width="11.2" height="1.0" fill="#5b7bd5"/>
<text transform="translate(293.7,622.20) scale(0.82,1)" font-size="8.2" fill="#1e1e1e" stroke="#1e1e1e" stroke-width="0.1">ENST00000670978</text>
<rect x="279.8" y="625.10" width="11.2" height="1.0" fill="#5b7bd5"/>
<text transform="translate(293.7,628.20) scale(0.82,1)" font-size="8.2" fill="#1e1e1e" stroke="#1e1e1e" stroke-width="0.1">ENST00000666960</text>
<rect x="279.8" y="630.60" width="11.2" height="1.0" fill="#5b7bd5"/>
<text transform="translate(293.7,633.70) scale(0.82,1)" font-size="8.2" fill="#1e1e1e" stroke="#1e1e1e" stroke-width="0.1">ENST00000450589</text>
<rect x="279.8" y="636.85" width="11.2" height="1.9" fill="#5a8fa8"/>
<text transform="translate(293.7,640.40) scale(0.82,1)" font-size="8.2" fill="#1e1e1e" stroke="#1e1e1e" stroke-width="0.1">ENST00000520544</text>
<rect x="279.8" y="643.60" width="11.2" height="1.0" fill="#5b7bd5"/>
<text transform="translate(293.7,646.70) scale(0.82,1)" font-size="8.2" fill="#1e1e1e" stroke="#1e1e1e" stroke-width="0.1">ENST00000461448</text>
<rect x="279.8" y="649.40" width="11.2" height="1.0" fill="#6f8fd8"/>
<text transform="translate(293.7,652.50) scale(0.82,1)" font-size="8.2" fill="#1e1e1e" stroke="#1e1e1e" stroke-width="0.1">ENST00000377542</text>
<rect x="279.8" y="654.95" width="11.2" height="5.5" fill="#a6c96a"/>
<text transform="translate(293.7,660.30) scale(0.82,1)" font-size="8.2" fill="#1e1e1e" stroke="#1e1e1e" stroke-width="0.1">ENST00000310771</text>
<rect x="279.8" y="665.80" width="11.2" height="2.8" fill="#6aa392"/>
<text transform="translate(293.7,669.80) scale(0.82,1)" font-size="8.2" fill="#1e1e1e" stroke="#1e1e1e" stroke-width="0.1">ENST00000445430</text>
<rect x="279.8" y="674.20" width="11.2" height="6.6" fill="#e3c35a"/>
<text transform="translate(293.7,680.10) scale(0.82,1)" font-size="8.2" fill="#1e1e1e" stroke="#1e1e1e" stroke-width="0.1">ENST00000414790</text>
<rect x="279.8" y="685.70" width="11.2" height="1.8" fill="#5173cf"/>
<text transform="translate(293.7,689.20) scale(0.82,1)" font-size="8.2" fill="#1e1e1e" stroke="#1e1e1e" stroke-width="0.1">ENST00000565988</text>
<rect x="279.8" y="692.30" width="11.2" height="1.8" fill="#5173cf"/>
<text transform="translate(293.7,695.80) scale(0.82,1)" font-size="8.2" fill="#1e1e1e" stroke="#1e1e1e" stroke-width="0.1">ENST00000552576</text>
<rect x="279.8" y="698.60" width="11.2" height="1.8" fill="#5173cf"/>
<text transform="translate(293.7,702.10) scale(0.82,1)" font-size="8.2" fill="#1e1e1e" stroke="#1e1e1e" stroke-width="0.1">ENST00000610408</text>
<rect x="279.8" y="705.00" width="11.2" height="1.8" fill="#5173cf"/>
<text transform="translate(293.7,708.50) scale(0.82,1)" font-size="8.2" fill="#1e1e1e" stroke="#1e1e1e" stroke-width="0.1">ENST00000399449</text>
</svg>
</body></html>
